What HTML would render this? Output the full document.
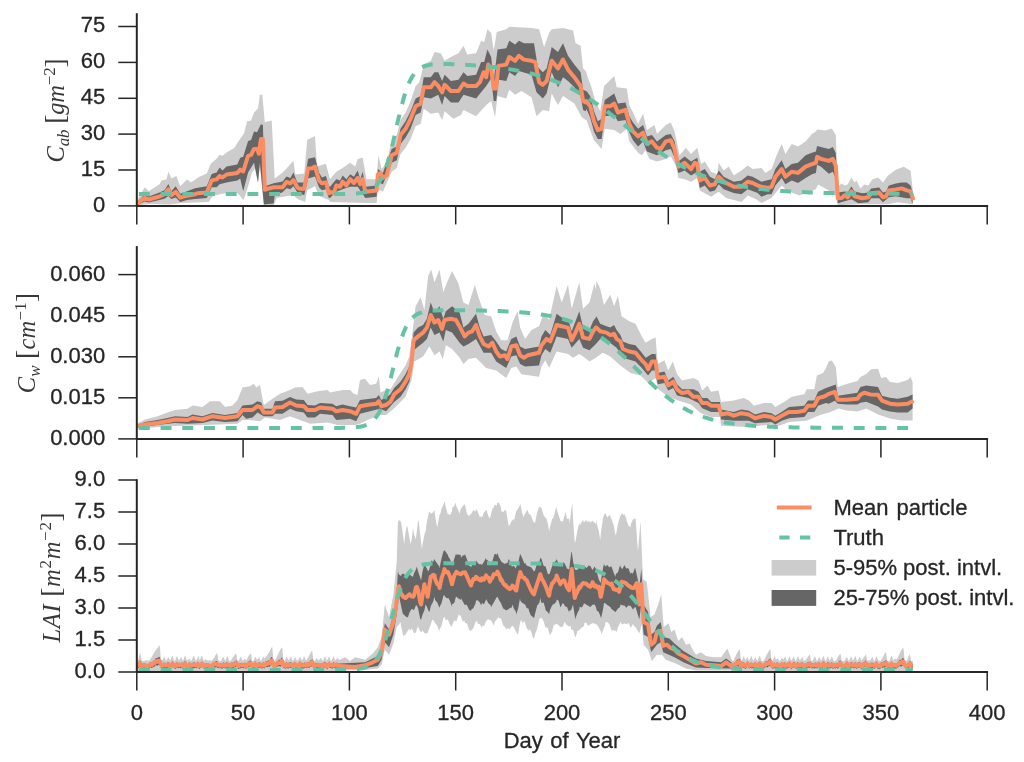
<!DOCTYPE html>
<html lang="en"><head><meta charset="utf-8"><title>Particle filter results</title>
<style>html,body{margin:0;padding:0;background:#fff}svg{display:block}</style></head>
<body>
<svg width="1024" height="762" viewBox="0 0 1024 762">
<rect width="1024" height="762" fill="#fff"/>
<g>
<polygon fill="#cccccc" points="137.3,200.1 144.8,187.3 148.7,191.2 159.5,184.3 161.5,180.4 166.4,179.4 168.4,171.5 171.3,178.4 176.3,176.1 180.2,186.3 187.1,179.4 191.0,182.4 198.9,176.9 206.8,173.5 210.7,163.7 216.6,158.7 219.6,154.8 222.5,155.8 226.5,152.4 234.3,147.9 237.3,143.0 244.2,133.1 247.1,121.3 251.1,120.4 254.0,112.5 258.0,108.5 259.9,94.8 262.3,94.8 264.8,122.3 271.7,120.4 274.7,178.4 282.6,172.5 286.5,168.6 293.4,160.7 295.4,174.5 304.2,173.5 307.2,140.0 315.0,136.1 317.0,166.6 325.9,163.7 328.8,174.5 330.0,179.2 336.3,171.7 342.6,167.9 350.2,162.8 355.2,166.6 357.7,159.1 362.7,157.8 366.5,179.2 376.6,179.2 378.4,155.3 381.6,169.1 386.7,162.8 391.7,140.2 396.8,135.1 400.5,120.0 405.6,112.5 410.6,101.1 415.6,86.0 419.4,82.2 423.7,64.6 430.8,60.8 434.5,52.0 440.8,53.3 444.6,60.8 450.9,57.0 458.5,53.3 463.5,45.7 467.3,54.5 476.1,53.3 481.1,40.7 484.2,41.9 487.4,29.3 491.2,33.1 493.7,50.7 496.8,31.9 506.3,29.3 509.3,26.8 531.5,28.1 539.1,29.3 544.1,47.0 549.1,33.1 551.7,29.3 563.0,28.1 573.1,30.6 575.6,43.2 580.6,45.7 583.1,68.4 585.9,70.9 587.7,77.2 591.5,87.3 595.3,101.1 600.3,111.2 604.1,86.0 614.2,75.9 616.7,87.3 626.8,88.5 629.3,104.9 633.0,112.5 638.1,123.8 643.1,113.7 646.9,130.1 654.5,125.1 657.0,133.9 665.8,125.1 670.8,122.5 674.6,131.4 679.6,155.3 685.9,147.7 691.0,154.0 697.3,147.7 701.1,164.1 704.8,161.6 711.1,171.7 717.4,174.2 718.7,162.8 723.7,170.4 728.8,166.6 733.8,175.4 741.4,170.4 747.7,165.4 752.7,169.1 761.5,167.9 765.3,172.9 771.6,169.1 776.6,155.3 781.7,143.9 785.4,154.0 791.7,143.9 798.0,146.5 805.6,141.4 811.9,133.9 815.9,131.4 817.1,129.4 825.0,130.4 831.9,128.4 835.8,135.3 837.8,186.5 841.7,183.5 844.6,185.5 847.6,184.5 851.5,177.6 854.5,182.5 856.5,180.6 860.4,188.4 864.3,184.5 868.3,185.5 872.2,179.6 878.1,177.6 883.0,182.5 888.0,175.6 895.8,169.7 903.7,166.8 910.6,170.7 912.6,188.4 912.6,204.2 897.8,202.2 888.0,204.2 878.1,204.2 858.4,204.2 837.8,205.2 835.8,196.3 828.9,190.4 818.1,184.5 815.9,189.3 799.3,195.6 786.7,190.5 781.7,185.5 776.6,191.8 771.6,198.1 761.5,203.1 756.5,199.4 747.7,195.6 741.4,201.9 726.2,198.1 718.7,191.8 711.1,196.8 699.8,190.5 697.3,177.9 691.0,181.7 684.7,179.2 678.4,177.9 675.9,165.4 670.8,156.5 665.8,159.1 657.0,161.6 649.4,159.1 645.6,150.2 641.9,155.3 638.1,152.8 629.3,141.4 626.8,128.8 620.5,133.9 614.2,130.1 604.8,128.8 601.6,149.0 594.0,140.2 586.4,120.0 585.9,120.0 581.9,117.5 574.3,103.6 563.0,96.1 558.0,104.9 551.7,93.6 549.1,111.2 542.8,109.9 536.5,116.2 531.5,97.3 521.4,91.0 515.1,94.8 509.3,89.8 506.3,98.6 497.5,96.1 495.0,117.5 491.2,101.1 486.2,104.9 476.1,116.2 463.5,109.9 461.0,115.0 453.4,118.8 444.6,111.2 442.1,120.0 438.3,112.5 430.8,113.7 423.7,108.7 420.7,123.8 415.6,126.3 410.6,138.9 405.6,147.7 400.5,154.0 396.8,167.9 391.7,171.7 382.9,191.8 377.9,189.3 376.6,203.1 365.3,203.1 330.0,201.9 328.8,200.1 319.0,196.1 315.0,186.3 307.2,190.2 305.2,202.0 297.3,199.1 293.4,195.2 287.5,196.1 276.7,198.1 273.7,205.4 263.9,205.4 259.9,166.6 258.0,182.4 255.0,168.6 252.0,172.5 246.1,193.2 243.2,200.1 240.2,196.1 236.3,192.2 224.5,193.2 212.7,196.1 208.7,202.0 181.2,203.0 169.4,204.4 149.7,204.0 137.3,205.6"/>
<polygon fill="#666666" points="137.3,202.0 144.8,194.2 148.7,196.5 159.5,192.6 164.4,190.2 168.4,183.9 171.3,191.2 175.7,186.3 180.2,193.8 187.1,191.2 195.0,188.3 206.8,186.3 211.7,174.1 216.6,172.5 219.6,167.6 222.5,170.6 226.5,166.6 237.3,164.6 240.2,157.8 243.2,156.8 248.1,141.0 251.1,140.0 254.0,131.6 257.0,132.2 260.9,124.3 262.9,124.9 264.8,186.3 267.8,185.3 273.7,183.3 282.6,181.4 286.5,176.5 290.4,178.0 293.4,172.5 297.3,182.4 304.2,182.4 308.1,158.7 315.0,157.2 319.0,172.5 321.9,177.4 325.9,176.1 328.8,186.3 330.0,186.8 336.3,179.2 340.1,180.5 342.6,175.4 346.4,179.2 350.2,174.2 353.9,176.7 357.7,170.4 360.2,179.2 362.7,171.7 365.3,186.8 376.6,185.5 377.9,169.1 382.9,172.9 391.7,149.0 396.8,146.5 400.5,128.8 405.6,121.3 410.6,111.2 415.6,98.6 420.7,96.1 423.7,77.2 430.8,77.2 434.5,72.2 438.3,72.2 442.1,81.0 444.6,74.7 450.9,81.0 458.5,79.7 463.5,72.2 467.3,75.9 476.1,74.7 481.1,62.1 484.2,62.1 487.4,49.5 491.2,57.0 493.7,81.0 497.5,49.5 506.3,48.2 509.3,40.7 515.1,44.4 518.9,40.7 524.0,43.2 534.0,43.2 537.8,67.1 542.8,72.2 546.6,68.4 551.7,47.0 558.0,52.0 563.0,43.2 568.0,55.8 574.3,64.6 580.6,72.2 583.1,89.8 585.9,91.0 586.4,91.0 590.2,96.1 594.0,111.2 597.8,121.3 601.6,118.8 604.8,99.9 614.2,93.6 617.9,103.6 625.5,102.4 629.3,116.2 633.0,122.5 638.1,128.8 643.1,125.1 646.9,136.4 651.9,135.1 657.0,141.4 665.8,135.1 670.8,133.9 674.6,141.4 678.4,161.6 684.7,156.5 691.0,161.6 697.3,157.8 699.8,171.7 704.8,169.1 709.9,176.7 714.9,179.2 718.7,170.4 723.7,176.7 733.8,181.7 741.4,180.5 747.7,175.4 752.7,176.7 761.5,181.7 771.6,179.2 775.4,169.1 781.7,160.3 785.4,169.1 791.7,164.1 798.0,162.8 805.6,155.3 811.9,152.8 815.9,151.5 817.1,146.1 821.0,147.1 828.9,149.1 832.8,147.1 835.8,153.0 837.8,192.4 844.6,191.4 847.6,192.4 851.5,186.5 854.5,191.4 862.4,193.3 868.3,192.4 871.2,188.4 879.1,187.4 883.0,192.4 886.0,191.4 888.9,185.5 895.8,183.5 901.7,182.5 906.7,182.5 910.6,185.5 912.6,192.4 912.6,204.2 910.6,198.3 906.7,198.3 895.8,196.3 888.9,197.3 883.0,202.2 879.1,198.3 871.2,198.3 868.3,202.2 858.4,203.2 851.5,199.3 844.6,201.2 837.8,203.2 835.8,178.6 832.8,171.7 828.9,173.7 821.0,166.8 817.1,164.8 815.9,172.9 811.9,174.2 805.6,177.9 798.0,183.0 791.7,180.5 785.4,184.2 781.7,177.9 775.4,185.5 771.6,194.3 767.8,194.3 761.5,196.8 757.7,193.1 747.7,189.3 741.4,194.3 733.8,193.1 723.7,189.3 718.7,184.2 714.9,190.5 709.9,191.8 704.8,185.5 699.8,188.0 697.3,171.7 691.0,175.4 684.7,170.4 678.4,172.9 674.6,157.8 670.8,149.0 665.8,150.2 657.0,155.3 646.9,151.5 643.1,141.4 638.1,146.5 633.0,140.2 629.3,132.6 625.5,120.0 617.9,121.3 614.2,115.0 604.8,116.2 601.6,138.9 597.8,138.9 594.0,131.4 590.2,117.5 586.4,108.7 585.9,111.2 583.1,109.9 580.6,96.1 574.3,87.3 568.0,81.0 563.0,77.2 558.0,87.3 551.7,72.2 546.6,93.6 542.8,98.6 536.5,92.3 531.5,74.7 518.9,70.9 515.1,75.9 509.3,72.2 506.3,81.0 498.8,79.7 496.2,101.1 493.7,101.1 491.2,78.5 486.2,86.0 481.1,92.3 476.1,98.6 463.5,94.8 458.5,102.4 450.9,102.4 444.6,96.1 442.1,104.9 438.3,94.8 430.8,98.6 423.7,97.3 420.7,112.5 415.6,115.0 410.6,128.8 405.6,137.6 400.5,143.9 396.8,160.3 391.7,162.8 382.9,184.2 377.9,181.7 376.6,196.8 365.3,198.1 357.7,186.8 350.2,186.8 342.6,189.3 336.3,191.8 330.0,198.1 328.8,198.1 325.9,189.3 321.9,190.2 319.0,187.3 315.0,176.5 308.1,178.4 304.2,195.2 297.3,192.2 293.4,186.3 290.4,189.3 286.5,188.3 282.6,192.2 274.7,195.2 273.7,203.6 267.8,204.0 263.9,204.4 259.9,162.7 258.0,182.4 254.0,162.7 248.1,172.5 243.2,191.2 240.2,178.4 237.3,180.4 226.5,182.4 219.6,184.3 216.6,187.3 211.7,187.3 206.8,198.1 195.0,199.1 187.1,200.1 180.2,202.0 175.7,197.5 171.3,199.1 168.4,196.1 164.4,198.7 159.5,200.1 148.7,202.6 144.8,201.5 137.3,205.2"/>
<polyline fill="none" stroke="#fc8d62" stroke-width="4" stroke-linejoin="round" stroke-linecap="butt" points="137.3,203.6 144.8,197.7 148.7,199.5 159.5,196.5 164.4,194.2 168.4,189.3 171.3,195.2 175.7,191.8 180.2,197.7 187.1,195.7 195.0,194.2 197.9,193.2 206.8,192.6 211.7,180.4 216.6,179.4 219.6,176.1 222.5,177.4 226.5,174.5 237.3,172.9 240.2,169.6 243.2,171.5 248.1,155.8 251.1,154.8 254.0,148.9 257.0,148.9 258.9,153.8 260.9,139.1 262.9,139.1 264.8,189.8 267.8,188.7 273.7,187.3 282.6,187.3 286.5,182.0 290.4,183.3 293.4,180.0 297.3,187.3 299.3,188.7 304.2,188.7 308.1,168.6 312.1,168.2 315.0,166.6 319.0,180.4 321.9,183.3 325.9,182.4 328.8,193.2 330.0,191.8 333.8,193.1 336.3,185.5 340.1,186.8 342.6,181.7 346.4,185.5 350.2,179.2 353.9,183.0 357.7,177.9 360.2,184.2 362.7,179.2 365.3,191.8 376.6,190.5 377.9,174.2 380.4,172.9 382.9,177.9 386.7,175.4 391.7,155.3 396.8,152.8 400.5,135.1 405.6,128.8 410.6,118.8 415.6,106.2 420.7,103.6 423.7,87.3 430.8,87.3 434.5,82.2 438.3,86.0 442.1,92.3 444.6,84.8 450.9,91.0 458.5,91.0 463.5,83.5 467.3,86.0 476.1,86.0 479.9,82.2 483.7,72.2 486.2,77.2 488.2,64.6 491.2,68.4 493.7,88.5 496.2,88.5 498.3,65.9 506.3,64.6 509.3,57.0 515.1,60.8 518.9,55.8 524.0,59.6 531.5,60.8 535.3,62.1 539.1,82.2 542.8,84.8 546.6,81.0 551.7,60.8 558.0,68.4 563.0,59.6 568.0,69.6 574.3,77.2 580.6,86.0 583.1,101.1 585.9,102.4 586.4,101.1 590.2,106.2 594.0,121.3 597.8,130.1 601.6,128.8 604.8,106.2 610.4,106.2 614.2,103.6 617.9,112.5 625.5,109.9 629.3,123.8 633.0,131.4 638.1,136.4 643.1,132.6 646.9,143.9 651.9,141.4 657.0,147.7 660.8,149.0 665.8,141.4 670.8,140.2 674.6,149.0 678.4,166.6 684.7,162.8 691.0,169.1 694.8,162.8 697.3,164.1 699.8,180.5 704.8,177.9 709.9,185.5 714.9,184.2 718.7,176.7 723.7,181.7 728.8,184.2 733.8,186.8 741.4,186.8 747.7,181.7 752.7,183.0 757.7,185.5 761.5,186.8 767.8,188.0 771.6,186.8 775.4,176.7 781.7,169.1 785.4,176.7 791.7,171.7 798.0,172.9 805.6,166.6 811.9,164.1 815.9,162.8 817.1,156.9 821.0,158.9 828.9,160.9 832.8,158.9 835.8,165.8 837.8,198.3 841.7,197.9 844.6,195.3 847.6,197.3 851.5,191.4 854.5,196.3 858.4,197.3 862.4,198.3 868.3,197.3 871.2,193.3 879.1,192.4 883.0,197.3 886.0,196.3 888.9,190.4 895.8,189.4 901.7,188.4 906.7,190.4 910.6,191.4 913.5,200.2"/>
<polyline fill="none" stroke="#66c2a5" stroke-width="4" stroke-dasharray="10.9 10.806" points="138.9,193.9 140.0,193.9 141.1,193.9 142.1,193.9 143.2,193.9 144.2,193.9 145.3,193.9 146.4,193.9 147.4,193.9 148.5,193.9 149.6,193.9 150.6,193.9 151.7,193.9 152.7,193.9 153.8,193.9 154.9,193.9 155.9,193.9 157.0,193.9 158.1,193.9 159.1,193.9 160.2,193.9 161.2,193.9 162.3,193.9 163.4,193.9 164.4,193.9 165.5,193.9 166.6,193.9 167.6,193.9 168.7,193.9 169.8,193.9 170.8,193.9 171.9,193.9 172.9,193.9 174.0,193.9 175.1,193.9 176.1,193.9 177.2,193.9 178.3,193.9 179.3,193.9 180.4,193.9 181.4,193.9 182.5,193.9 183.6,193.9 184.6,193.9 185.7,193.9 186.8,193.9 187.8,193.9 188.9,193.9 190.0,193.9 191.0,193.9 192.1,193.9 193.1,193.9 194.2,193.9 195.3,193.9 196.3,193.9 197.4,193.9 198.5,193.9 199.5,193.9 200.6,193.9 201.6,193.9 202.7,193.9 203.8,193.9 204.8,193.9 205.9,193.9 207.0,193.9 208.0,193.9 209.1,193.9 210.1,193.9 211.2,193.9 212.3,193.9 213.3,193.9 214.4,193.9 215.5,193.9 216.5,193.9 217.6,193.9 218.7,193.9 219.7,193.9 220.8,193.9 221.8,193.9 222.9,193.9 224.0,193.9 225.0,193.9 226.1,193.9 227.2,193.9 228.2,193.9 229.3,193.9 230.3,193.9 231.4,193.9 232.5,193.9 233.5,193.9 234.6,193.9 235.7,193.9 236.7,193.9 237.8,193.9 238.8,193.9 239.9,193.9 241.0,194.0 242.0,194.0 243.1,194.0 244.2,194.0 245.2,194.0 246.3,194.0 247.4,194.0 248.4,194.0 249.5,194.0 250.5,194.0 251.6,194.0 252.7,194.0 253.7,194.0 254.8,194.0 255.9,194.0 256.9,194.0 258.0,194.0 259.0,194.0 260.1,194.0 261.2,194.0 262.2,194.0 263.3,194.0 264.4,194.0 265.4,194.0 266.5,194.0 267.5,194.0 268.6,194.0 269.7,194.0 270.7,194.0 271.8,194.0 272.9,194.0 273.9,194.0 275.0,194.0 276.1,194.0 277.1,194.0 278.2,194.0 279.2,194.0 280.3,194.0 281.4,194.0 282.4,194.0 283.5,194.0 284.6,194.0 285.6,194.0 286.7,194.0 287.7,194.0 288.8,194.0 289.9,194.0 290.9,194.0 292.0,194.0 293.1,194.0 294.1,194.0 295.2,194.0 296.2,194.0 297.3,194.0 298.4,194.0 299.4,194.0 300.5,194.0 301.6,194.0 302.6,194.0 303.7,194.0 304.8,194.0 305.8,194.0 306.9,194.0 307.9,194.0 309.0,194.0 310.1,194.0 311.1,194.0 312.2,194.0 313.3,194.0 314.3,194.0 315.4,194.0 316.4,194.0 317.5,194.0 318.6,194.0 319.6,194.0 320.7,194.0 321.8,194.0 322.8,194.0 323.9,194.0 325.0,194.0 326.0,194.0 327.1,194.0 328.1,194.0 329.2,194.0 330.3,194.0 331.3,194.0 332.4,194.0 333.5,194.0 334.5,194.0 335.6,194.0 336.6,194.0 337.7,194.0 338.8,194.0 339.8,194.0 340.9,194.0 342.0,194.0 343.0,194.0 344.1,193.9 345.1,193.9 346.2,193.9 347.3,193.9 348.3,193.9 349.4,193.8 350.5,193.8 351.5,193.8 352.6,193.7 353.7,193.7 354.7,193.6 355.8,193.5 356.8,193.4 357.9,193.3 359.0,193.2 360.0,193.1 361.1,192.9 362.2,192.8 363.2,192.6 364.3,192.3 365.3,192.1 366.4,191.8 367.5,191.4 368.5,191.0 369.6,190.5 370.7,190.0 371.7,189.4 372.8,188.7 373.8,187.9 374.9,187.0 376.0,186.0 377.0,184.8 378.1,183.5 379.2,182.0 380.2,180.4 381.3,178.5 382.4,176.4 383.4,174.1 384.5,171.6 385.5,168.8 386.6,165.7 387.7,162.4 388.7,158.9 389.8,155.1 390.9,151.0 391.9,146.8 393.0,142.4 394.0,137.9 395.1,133.3 396.2,128.6 397.2,123.9 398.3,119.3 399.4,114.8 400.4,110.4 401.5,106.2 402.6,102.2 403.6,98.4 404.7,94.8 405.7,91.5 406.8,88.5 407.9,85.7 408.9,83.1 410.0,80.8 411.1,78.8 412.1,76.9 413.2,75.3 414.2,73.8 415.3,72.5 416.4,71.3 417.4,70.3 418.5,69.4 419.6,68.7 420.6,68.0 421.7,67.4 422.7,66.9 423.8,66.4 424.9,66.0 425.9,65.7 427.0,65.4 428.1,65.2 429.1,64.9 430.2,64.8 431.3,64.6 432.3,64.5 433.4,64.4 434.4,64.3 435.5,64.2 436.6,64.2 437.6,64.1 438.7,64.1 439.8,64.1 440.8,64.0 441.9,64.0 442.9,64.0 444.0,64.0 445.1,64.0 446.1,64.1 447.2,64.1 448.3,64.1 449.3,64.1 450.4,64.1 451.4,64.2 452.5,64.2 453.6,64.2 454.6,64.3 455.7,64.3 456.8,64.4 457.8,64.4 458.9,64.5 460.0,64.5 461.0,64.6 462.1,64.6 463.1,64.7 464.2,64.7 465.3,64.8 466.3,64.8 467.4,64.9 468.5,65.0 469.5,65.0 470.6,65.1 471.6,65.2 472.7,65.2 473.8,65.3 474.8,65.4 475.9,65.5 477.0,65.5 478.0,65.6 479.1,65.7 480.1,65.8 481.2,65.9 482.3,66.0 483.3,66.1 484.4,66.2 485.5,66.3 486.5,66.4 487.6,66.5 488.7,66.6 489.7,66.7 490.8,66.8 491.8,66.9 492.9,67.0 494.0,67.1 495.0,67.2 496.1,67.4 497.2,67.5 498.2,67.6 499.3,67.8 500.3,67.9 501.4,68.0 502.5,68.2 503.5,68.3 504.6,68.5 505.7,68.6 506.7,68.8 507.8,68.9 508.8,69.1 509.9,69.3 511.0,69.4 512.0,69.6 513.1,69.8 514.2,70.0 515.2,70.2 516.3,70.4 517.4,70.6 518.4,70.8 519.5,71.0 520.5,71.2 521.6,71.4 522.7,71.6 523.7,71.8 524.8,72.1 525.9,72.3 526.9,72.5 528.0,72.8 529.0,73.0 530.1,73.3 531.2,73.6 532.2,73.8 533.3,74.1 534.4,74.4 535.4,74.7 536.5,75.0 537.6,75.3 538.6,75.6 539.7,75.9 540.7,76.2 541.8,76.5 542.9,76.9 543.9,77.2 545.0,77.5 546.1,77.9 547.1,78.3 548.2,78.6 549.2,79.0 550.3,79.4 551.4,79.8 552.4,80.2 553.5,80.6 554.6,81.0 555.6,81.4 556.7,81.8 557.7,82.3 558.8,82.7 559.9,83.1 560.9,83.6 562.0,84.1 563.1,84.5 564.1,85.0 565.2,85.5 566.3,86.0 567.3,86.5 568.4,87.0 569.4,87.6 570.5,88.1 571.6,88.6 572.6,89.2 573.7,89.8 574.8,90.3 575.8,90.9 576.9,91.5 577.9,92.1 579.0,92.7 580.1,93.3 581.1,93.9 582.2,94.5 583.3,95.2 584.3,95.8 585.4,96.5 586.4,97.1 587.5,97.8 588.6,98.5 589.6,99.2 590.7,99.9 591.8,100.6 592.8,101.3 593.9,102.0 595.0,102.7 596.0,103.4 597.1,104.2 598.1,104.9 599.2,105.7 600.3,106.4 601.3,107.2 602.4,108.0 603.5,108.7 604.5,109.5 605.6,110.3 606.6,111.1 607.7,111.9 608.8,112.7 609.8,113.5 610.9,114.3 612.0,115.2 613.0,116.0 614.1,116.8 615.1,117.6 616.2,118.5 617.3,119.3 618.3,120.2 619.4,121.0 620.5,121.9 621.5,122.7 622.6,123.5 623.7,124.4 624.7,125.3 625.8,126.1 626.8,127.0 627.9,127.8 629.0,128.7 630.0,129.5 631.1,130.4 632.2,131.2 633.2,132.1 634.3,132.9 635.3,133.8 636.4,134.6 637.5,135.5 638.5,136.3 639.6,137.2 640.7,138.0 641.7,138.8 642.8,139.7 643.9,140.5 644.9,141.3 646.0,142.1 647.0,143.0 648.1,143.8 649.2,144.6 650.2,145.4 651.3,146.2 652.4,146.9 653.4,147.7 654.5,148.5 655.5,149.3 656.6,150.0 657.7,150.8 658.7,151.5 659.8,152.3 660.9,153.0 661.9,153.8 663.0,154.5 664.0,155.2 665.1,155.9 666.2,156.6 667.2,157.3 668.3,158.0 669.4,158.7 670.4,159.3 671.5,160.0 672.6,160.6 673.6,161.3 674.7,161.9 675.7,162.5 676.8,163.1 677.9,163.8 678.9,164.4 680.0,165.0 681.1,165.5 682.1,166.1 683.2,166.7 684.2,167.2 685.3,167.8 686.4,168.3 687.4,168.9 688.5,169.4 689.6,169.9 690.6,170.4 691.7,170.9 692.7,171.4 693.8,171.9 694.9,172.3 695.9,172.8 697.0,173.3 698.1,173.7 699.1,174.2 700.2,174.6 701.3,175.0 702.3,175.4 703.4,175.8 704.4,176.2 705.5,176.6 706.6,177.0 707.6,177.4 708.7,177.8 709.8,178.1 710.8,178.5 711.9,178.8 712.9,179.2 714.0,179.5 715.1,179.9 716.1,180.2 717.2,180.5 718.3,180.8 719.3,181.1 720.4,181.4 721.5,181.7 722.5,182.0 723.6,182.3 724.6,182.5 725.7,182.8 726.8,183.1 727.8,183.3 728.9,183.6 730.0,183.8 731.0,184.1 732.1,184.3 733.1,184.5 734.2,184.8 735.3,185.0 736.3,185.2 737.4,185.4 738.5,185.6 739.5,185.8 740.6,186.0 741.6,186.2 742.7,186.4 743.8,186.6 744.8,186.7 745.9,186.9 747.0,187.1 748.0,187.3 749.1,187.4 750.2,187.6 751.2,187.7 752.3,187.9 753.3,188.0 754.4,188.2 755.5,188.3 756.5,188.5 757.6,188.6 758.7,188.7 759.7,188.9 760.8,189.0 761.8,189.1 762.9,189.2 764.0,189.3 765.0,189.5 766.1,189.6 767.2,189.7 768.2,189.8 769.3,189.9 770.3,190.0 771.4,190.1 772.5,190.2 773.5,190.3 774.6,190.4 775.7,190.5 776.7,190.5 777.8,190.6 778.9,190.7 779.9,190.8 781.0,190.9 782.0,190.9 783.1,191.0 784.2,191.1 785.2,191.2 786.3,191.2 787.4,191.3 788.4,191.4 789.5,191.4 790.5,191.5 791.6,191.6 792.7,191.6 793.7,191.7 794.8,191.7 795.9,191.8 796.9,191.8 798.0,191.9 799.0,191.9 800.1,192.0 801.2,192.0 802.2,192.1 803.3,192.1 804.4,192.2 805.4,192.2 806.5,192.3 807.6,192.3 808.6,192.4 809.7,192.4 810.7,192.4 811.8,192.5 812.9,192.5 813.9,192.6 815.0,192.6 816.1,192.6 817.1,192.7 818.2,192.7 819.2,192.7 820.3,192.7 821.4,192.8 822.4,192.8 823.5,192.8 824.6,192.9 825.6,192.9 826.7,192.9 827.8,192.9 828.8,193.0 829.9,193.0 830.9,193.0 832.0,193.0 833.1,193.1 834.1,193.1 835.2,193.1 836.3,193.1 837.3,193.2 838.4,193.2 839.4,193.2 840.5,193.2 841.6,193.2 842.6,193.2 843.7,193.3 844.8,193.3 845.8,193.3 846.9,193.3 847.9,193.3 849.0,193.3 850.1,193.4 851.1,193.4 852.2,193.4 853.3,193.4 854.3,193.4 855.4,193.4 856.5,193.4 857.5,193.5 858.6,193.5 859.6,193.5 860.7,193.5 861.8,193.5 862.8,193.5 863.9,193.5 865.0,193.5 866.0,193.5 867.1,193.6 868.1,193.6 869.2,193.6 870.3,193.6 871.3,193.6 872.4,193.6 873.5,193.6 874.5,193.6 875.6,193.6 876.6,193.6 877.7,193.6 878.8,193.7 879.8,193.7 880.9,193.7 882.0,193.7 883.0,193.7 884.1,193.7 885.2,193.7 886.2,193.7 887.3,193.7 888.3,193.7 889.4,193.7 890.5,193.7 891.5,193.7 892.6,193.7 893.7,193.7 894.7,193.7 895.8,193.8 896.8,193.8 897.9,193.8 899.0,193.8 900.0,193.8 901.1,193.8 902.2,193.8 903.2,193.8 904.3,193.8 905.3,193.8 906.4,193.8 907.5,193.8 908.5,193.8 909.6,193.8 910.7,193.8 911.7,193.8 912.8,193.8"/>
</g>
<g stroke="#262626" fill="none">
<line x1="136.8" y1="13.2" x2="136.8" y2="206.8" stroke-width="2.0"/>
<line x1="136.0" y1="205.9" x2="988.1" y2="205.9" stroke-width="2.0"/>
<line x1="118.3" y1="205.9" x2="136.8" y2="205.9" stroke-width="1.5"/>
<line x1="118.3" y1="170.0" x2="136.8" y2="170.0" stroke-width="1.5"/>
<line x1="118.3" y1="134.1" x2="136.8" y2="134.1" stroke-width="1.5"/>
<line x1="118.3" y1="98.3" x2="136.8" y2="98.3" stroke-width="1.5"/>
<line x1="118.3" y1="62.4" x2="136.8" y2="62.4" stroke-width="1.5"/>
<line x1="118.3" y1="26.5" x2="136.8" y2="26.5" stroke-width="1.5"/>
<line x1="136.8" y1="205.9" x2="136.8" y2="224.4" stroke-width="1.5"/>
<line x1="243.1" y1="205.9" x2="243.1" y2="224.4" stroke-width="1.5"/>
<line x1="349.4" y1="205.9" x2="349.4" y2="224.4" stroke-width="1.5"/>
<line x1="455.7" y1="205.9" x2="455.7" y2="224.4" stroke-width="1.5"/>
<line x1="562.0" y1="205.9" x2="562.0" y2="224.4" stroke-width="1.5"/>
<line x1="668.3" y1="205.9" x2="668.3" y2="224.4" stroke-width="1.5"/>
<line x1="774.6" y1="205.9" x2="774.6" y2="224.4" stroke-width="1.5"/>
<line x1="880.9" y1="205.9" x2="880.9" y2="224.4" stroke-width="1.5"/>
<line x1="987.2" y1="205.9" x2="987.2" y2="224.4" stroke-width="1.5"/>
</g>
<g font-family="Liberation Sans, Arial, Helvetica, sans-serif" font-size="22" fill="#262626" stroke="#262626" stroke-width="0.3" text-anchor="end">
<text x="105.2" y="211.8">0</text>
<text x="105.2" y="175.9">15</text>
<text x="105.2" y="140.0">30</text>
<text x="105.2" y="104.2">45</text>
<text x="105.2" y="68.3">60</text>
<text x="105.2" y="32.4">75</text>
</g>
<g>
<polygon fill="#cccccc" points="137.0,423.8 145.0,419.5 157.5,416.2 167.5,412.5 175.0,410.0 187.5,408.8 192.5,405.5 202.5,407.0 210.0,401.2 220.0,401.2 225.0,407.0 232.5,405.5 237.5,400.0 242.5,387.5 250.0,386.2 253.8,383.8 256.2,387.5 260.0,385.0 263.8,405.0 272.5,398.8 280.0,393.8 290.0,390.0 295.0,387.5 302.5,387.0 307.5,393.8 317.5,391.2 327.5,390.0 330.0,392.5 342.5,390.0 350.0,390.0 353.8,393.8 357.5,395.0 360.0,380.0 365.0,378.8 370.0,385.0 376.2,383.8 378.8,376.2 380.5,392.5 386.0,390.0 390.4,389.3 400.5,372.9 405.5,365.4 409.3,356.5 411.8,337.6 415.6,306.2 420.6,297.3 424.4,309.9 428.2,275.9 431.2,269.6 434.5,282.2 439.5,269.6 443.3,292.3 447.1,282.2 452.1,270.9 458.4,283.5 463.4,302.4 468.5,304.9 474.8,284.7 478.5,297.3 484.8,315.0 491.1,316.2 496.2,331.3 501.2,340.2 507.5,340.2 512.5,322.5 517.6,311.2 520.1,327.6 525.1,338.9 531.4,330.1 539.0,326.3 544.0,312.5 549.1,320.0 556.6,286.0 561.7,302.4 568.0,284.7 571.7,308.7 579.3,282.2 583.1,308.7 589.4,302.4 594.4,283.5 595.9,289.8 596.4,281.0 600.2,288.5 604.0,304.9 610.3,294.8 614.1,306.2 617.9,296.1 621.6,316.2 629.2,321.3 635.5,323.8 641.8,336.4 645.6,342.7 651.9,338.9 655.6,337.6 657.7,364.1 664.5,360.3 668.2,370.4 672.8,361.6 677.1,374.2 682.1,380.5 693.4,377.9 698.5,380.5 702.2,390.5 707.3,385.5 711.1,391.8 718.6,390.5 721.1,401.9 733.7,400.6 743.8,398.1 748.8,400.6 753.9,405.7 764.0,403.1 771.5,403.1 775.3,406.9 784.1,401.9 791.7,396.8 804.3,394.3 806.8,389.3 814.3,389.3 816.9,375.4 823.1,372.9 825.9,367.9 828.9,361.3 831.9,360.4 835.8,367.2 837.8,386.9 846.6,384.0 857.4,381.0 860.4,377.1 866.3,374.1 871.2,369.2 878.1,368.8 881.1,378.1 886.0,377.1 889.9,382.0 897.8,383.0 907.6,380.0 910.6,377.1 912.6,382.0 912.6,420.4 901.7,420.4 889.9,418.4 878.1,414.5 866.3,408.6 857.4,411.5 846.6,410.6 838.7,408.6 828.9,412.5 825.9,413.2 818.1,415.7 806.8,420.8 789.1,422.0 779.1,425.8 771.5,424.5 746.3,427.1 721.1,425.8 719.9,417.0 711.1,417.0 701.0,413.2 690.9,404.4 678.3,400.6 668.2,396.8 658.2,389.3 655.6,377.9 648.1,383.0 640.5,375.4 630.5,372.9 620.4,365.4 610.3,356.5 602.7,352.8 595.9,357.8 589.4,361.6 583.1,356.5 579.3,354.0 573.0,357.8 568.0,354.0 556.6,351.5 549.1,367.9 545.3,360.3 541.5,366.6 539.0,376.7 521.4,374.2 516.3,366.6 511.3,367.9 506.2,377.9 496.2,370.4 486.1,367.9 476.0,357.8 468.5,359.1 463.4,364.1 459.6,357.8 452.1,349.0 445.8,345.2 442.8,359.1 439.5,351.5 434.5,355.3 429.4,346.5 423.1,356.5 414.3,361.6 411.8,379.2 405.5,396.8 394.2,408.2 386.0,415.0 380.0,415.0 367.5,420.0 360.0,423.8 355.0,425.0 337.5,425.0 327.5,422.5 310.0,423.8 300.0,420.0 290.0,416.2 280.0,420.0 265.0,417.5 260.0,421.2 250.0,420.0 242.5,420.0 237.5,423.8 205.0,425.0 167.5,426.2 137.0,428.8"/>
<polygon fill="#666666" points="137.0,425.0 145.0,422.0 157.5,420.0 167.5,418.0 175.0,416.2 187.5,417.0 192.5,414.5 202.5,416.2 212.5,413.0 225.0,415.0 237.5,413.0 242.5,405.5 252.5,404.5 257.5,401.2 261.2,402.5 263.8,408.8 272.5,408.8 275.0,401.2 282.5,400.8 290.0,397.0 296.2,399.5 303.8,400.0 307.5,405.0 315.0,405.5 320.0,403.0 332.5,403.8 336.2,406.2 342.5,404.5 350.0,406.2 356.2,407.5 360.0,400.0 370.0,398.8 376.2,398.0 378.8,395.0 381.2,400.0 386.0,397.5 390.4,394.3 394.2,388.0 400.5,381.7 405.5,374.2 409.3,366.6 411.8,352.8 413.6,332.6 418.1,327.6 423.1,325.0 426.9,318.8 430.7,302.4 434.5,312.5 439.5,306.2 443.3,318.8 445.8,311.2 452.1,306.2 459.6,312.5 463.4,327.6 468.5,323.8 476.0,313.7 479.8,327.6 483.6,336.4 491.1,335.1 496.2,341.4 501.2,349.0 506.2,351.5 511.3,338.9 516.3,336.4 520.1,346.5 525.1,349.0 539.0,346.5 541.5,336.4 545.3,330.1 550.3,335.1 556.6,313.7 561.7,317.5 568.0,318.8 571.7,331.3 579.3,311.2 583.1,327.6 589.4,330.1 593.1,321.3 595.9,317.5 596.4,316.2 600.2,323.8 606.5,326.3 610.3,327.6 614.1,325.0 616.6,330.1 620.4,335.1 622.9,341.4 629.2,343.9 635.5,345.2 641.8,352.8 645.6,357.8 651.9,354.0 655.6,354.0 657.7,372.9 664.5,371.6 668.2,380.5 673.3,376.7 677.1,384.2 682.1,389.3 693.4,389.3 698.5,391.8 702.2,398.1 707.3,398.1 711.1,401.9 719.9,401.9 721.1,409.4 733.7,411.9 741.3,409.4 748.8,410.7 755.1,414.5 764.0,411.9 771.5,413.2 775.3,415.7 781.6,411.9 789.1,406.9 804.3,405.7 808.0,400.6 814.3,400.6 818.1,391.8 825.9,388.0 828.9,386.9 835.8,384.6 837.8,395.8 857.4,392.8 860.4,386.9 866.3,385.4 878.1,386.9 882.0,395.8 889.9,397.8 897.8,398.7 907.6,396.8 912.6,394.4 912.6,408.6 907.6,412.5 897.8,412.5 889.9,411.5 882.0,409.6 878.1,406.6 866.3,401.7 860.4,402.7 857.4,404.6 846.6,404.6 837.8,403.7 834.8,400.7 828.9,403.7 825.9,403.1 818.1,405.7 814.3,411.9 808.0,411.9 804.3,417.0 789.1,418.2 781.6,420.8 775.3,424.5 771.5,422.0 755.1,423.3 748.8,420.8 733.7,420.8 721.1,419.5 719.9,411.9 711.1,411.9 702.2,408.2 698.5,403.1 688.4,398.1 677.1,395.6 673.3,388.0 668.2,390.5 664.5,383.0 657.7,384.2 655.6,370.4 651.9,370.4 648.1,375.4 641.8,367.9 635.5,361.6 622.9,357.8 616.6,347.7 606.5,340.2 600.2,338.9 595.9,343.9 589.4,350.2 583.1,347.7 579.3,338.9 571.7,347.7 568.0,338.9 556.6,336.4 550.3,352.8 545.3,349.0 541.5,355.3 539.0,365.4 525.1,366.6 520.1,364.1 516.3,355.3 511.3,356.5 506.2,367.9 496.2,361.6 491.1,352.8 483.6,352.8 476.0,338.9 468.5,343.9 463.4,346.5 459.6,342.7 452.1,332.6 445.8,330.1 443.3,341.4 439.5,332.6 434.5,335.1 430.7,327.6 426.9,338.9 423.1,342.7 413.6,350.2 411.8,369.1 409.3,381.7 405.5,389.3 400.5,396.8 394.2,401.9 386.0,411.2 380.0,408.8 370.0,411.2 360.0,413.8 356.2,421.2 350.0,418.8 336.2,420.0 332.5,415.0 320.0,413.8 315.0,417.5 307.5,417.5 303.8,412.5 296.2,411.2 290.0,408.8 282.5,413.8 275.0,413.8 272.5,416.2 263.8,416.2 257.5,412.5 252.5,417.5 246.2,418.8 242.5,415.0 237.5,421.2 225.0,422.0 212.5,420.5 202.5,423.0 187.5,423.8 175.0,423.0 157.5,425.0 137.0,427.5"/>
<polyline fill="none" stroke="#fc8d62" stroke-width="4" stroke-linejoin="round" stroke-linecap="butt" points="137.0,426.2 145.0,424.5 157.5,423.0 167.5,421.2 175.0,419.5 187.5,420.0 192.5,418.0 202.5,419.5 212.5,416.2 225.0,418.0 237.5,416.2 242.5,410.0 252.5,410.0 257.5,406.2 261.2,407.5 263.8,412.5 272.5,412.5 275.0,407.5 282.5,407.0 290.0,402.5 296.2,405.5 303.8,406.2 307.5,410.0 315.0,410.0 320.0,407.5 332.5,408.8 336.2,411.2 342.5,410.0 350.0,411.2 356.2,413.8 360.0,406.2 370.0,404.5 376.2,403.8 378.8,401.2 381.2,406.2 386.0,405.0 390.4,401.9 394.2,394.3 400.5,389.3 405.5,381.7 409.3,374.2 411.8,360.3 413.6,340.2 418.1,336.4 423.1,332.6 426.9,327.6 430.7,315.0 434.5,322.5 438.2,320.0 442.0,328.8 444.5,320.0 450.8,318.8 455.9,320.0 460.9,328.8 464.7,336.4 468.5,332.6 472.2,331.3 476.0,325.0 479.8,336.4 483.6,343.9 488.6,346.5 492.4,342.7 496.2,351.5 499.9,356.5 505.0,355.3 507.5,359.1 511.3,346.5 516.3,345.2 520.1,355.3 523.9,357.8 527.7,355.3 539.0,352.8 541.5,345.2 546.5,338.9 550.3,341.4 556.6,325.0 561.7,326.3 568.0,327.6 571.7,340.2 575.5,332.6 579.3,323.8 583.1,337.6 589.4,338.9 593.1,331.3 595.9,327.6 596.4,327.6 600.2,331.3 606.5,332.6 610.3,335.1 614.1,333.9 616.6,338.9 620.4,341.4 622.9,349.0 629.2,351.5 635.5,352.8 641.8,360.3 645.6,364.1 648.1,369.1 651.9,361.6 655.6,361.6 657.7,377.9 664.5,376.7 668.2,385.5 673.3,381.7 677.1,389.3 682.1,393.1 688.4,391.8 693.4,396.8 698.5,396.8 702.2,403.1 707.3,403.1 711.1,405.7 718.6,405.7 721.1,414.5 727.4,413.2 733.7,415.7 741.3,413.2 748.8,414.5 755.1,418.2 764.0,415.7 771.5,417.0 775.3,419.5 781.6,415.7 789.1,411.9 796.7,411.9 804.3,410.7 808.0,405.7 814.3,405.7 818.1,398.1 823.1,396.8 825.9,395.6 828.9,393.8 834.8,391.9 837.8,399.7 846.6,399.7 857.4,398.7 860.4,394.8 864.3,392.8 870.2,394.4 878.1,394.8 882.0,400.7 889.9,403.7 897.8,404.6 907.6,403.7 913.5,400.7"/>
<polyline fill="none" stroke="#66c2a5" stroke-width="4" stroke-dasharray="10.9 10.805" points="138.9,428.0 140.0,428.0 141.1,428.0 142.1,428.0 143.2,428.0 144.2,428.0 145.3,428.0 146.4,428.0 147.4,428.0 148.5,428.0 149.6,428.0 150.6,428.0 151.7,428.0 152.7,428.0 153.8,428.0 154.9,428.0 155.9,428.0 157.0,428.0 158.1,428.0 159.1,428.0 160.2,428.0 161.2,428.0 162.3,428.0 163.4,428.0 164.4,428.0 165.5,428.0 166.6,428.0 167.6,428.0 168.7,428.0 169.8,428.0 170.8,428.0 171.9,428.0 172.9,428.0 174.0,428.0 175.1,428.0 176.1,428.0 177.2,428.0 178.3,428.0 179.3,428.0 180.4,428.0 181.4,428.0 182.5,428.0 183.6,428.0 184.6,428.0 185.7,428.0 186.8,428.0 187.8,428.0 188.9,428.0 190.0,428.0 191.0,428.0 192.1,428.0 193.1,428.0 194.2,428.0 195.3,428.0 196.3,428.0 197.4,428.0 198.5,428.0 199.5,428.0 200.6,428.0 201.6,428.0 202.7,428.0 203.8,428.0 204.8,428.0 205.9,428.0 207.0,428.0 208.0,428.0 209.1,428.0 210.1,428.0 211.2,428.0 212.3,428.0 213.3,428.0 214.4,428.0 215.5,428.0 216.5,428.0 217.6,428.0 218.7,428.0 219.7,428.0 220.8,428.0 221.8,428.0 222.9,428.0 224.0,428.0 225.0,428.0 226.1,428.0 227.2,428.0 228.2,428.0 229.3,428.0 230.3,428.0 231.4,428.0 232.5,428.0 233.5,428.0 234.6,428.0 235.7,428.0 236.7,428.0 237.8,428.0 238.8,428.0 239.9,428.0 241.0,428.0 242.0,428.0 243.1,428.0 244.2,428.0 245.2,428.0 246.3,428.0 247.4,428.0 248.4,428.0 249.5,428.0 250.5,428.0 251.6,428.0 252.7,428.0 253.7,428.0 254.8,428.0 255.9,428.0 256.9,428.0 258.0,428.0 259.0,428.0 260.1,428.0 261.2,428.0 262.2,428.0 263.3,428.0 264.4,428.0 265.4,428.0 266.5,428.0 267.5,428.0 268.6,428.0 269.7,428.0 270.7,428.0 271.8,428.0 272.9,428.0 273.9,428.0 275.0,428.0 276.1,428.0 277.1,428.0 278.2,428.0 279.2,428.0 280.3,428.0 281.4,428.0 282.4,428.0 283.5,428.0 284.6,428.0 285.6,428.0 286.7,428.0 287.7,428.0 288.8,428.0 289.9,428.0 290.9,428.0 292.0,428.0 293.1,428.0 294.1,428.0 295.2,428.0 296.2,428.0 297.3,428.0 298.4,428.0 299.4,428.0 300.5,428.0 301.6,428.0 302.6,428.0 303.7,428.0 304.8,428.0 305.8,428.0 306.9,428.0 307.9,428.0 309.0,428.0 310.1,428.0 311.1,428.0 312.2,428.0 313.3,427.9 314.3,427.9 315.4,427.9 316.4,427.9 317.5,427.9 318.6,427.9 319.6,427.9 320.7,427.9 321.8,427.9 322.8,427.9 323.9,427.9 325.0,427.9 326.0,427.9 327.1,427.9 328.1,427.9 329.2,427.9 330.3,427.9 331.3,427.9 332.4,427.9 333.5,427.9 334.5,427.9 335.6,427.9 336.6,427.9 337.7,427.9 338.8,427.9 339.8,427.9 340.9,427.9 342.0,427.8 343.0,427.8 344.1,427.8 345.1,427.8 346.2,427.8 347.3,427.7 348.3,427.7 349.4,427.6 350.5,427.6 351.5,427.5 352.6,427.5 353.7,427.4 354.7,427.3 355.8,427.2 356.8,427.1 357.9,427.0 359.0,426.8 360.0,426.7 361.1,426.5 362.2,426.2 363.2,426.0 364.3,425.7 365.3,425.3 366.4,424.9 367.5,424.4 368.5,423.9 369.6,423.3 370.7,422.6 371.7,421.8 372.8,420.9 373.8,419.9 374.9,418.7 376.0,417.4 377.0,415.9 378.1,414.3 379.2,412.4 380.2,410.4 381.3,408.1 382.4,405.6 383.4,402.8 384.5,399.8 385.5,396.6 386.6,393.1 387.7,389.5 388.7,385.6 389.8,381.6 390.9,377.5 391.9,373.3 393.0,369.0 394.0,364.7 395.1,360.5 396.2,356.4 397.2,352.3 398.3,348.5 399.4,344.8 400.4,341.4 401.5,338.2 402.6,335.2 403.6,332.4 404.7,329.9 405.7,327.6 406.8,325.6 407.9,323.7 408.9,322.1 410.0,320.6 411.1,319.3 412.1,318.1 413.2,317.1 414.2,316.2 415.3,315.4 416.4,314.7 417.4,314.1 418.5,313.6 419.6,313.1 420.6,312.7 421.7,312.4 422.7,312.0 423.8,311.8 424.9,311.6 425.9,311.4 427.0,311.2 428.1,311.0 429.1,310.9 430.2,310.8 431.3,310.7 432.3,310.6 433.4,310.6 434.4,310.5 435.5,310.5 436.6,310.4 437.6,310.4 438.7,310.3 439.8,310.3 440.8,310.3 441.9,310.3 442.9,310.3 444.0,310.2 445.1,310.2 446.1,310.2 447.2,310.2 448.3,310.2 449.3,310.2 450.4,310.2 451.4,310.2 452.5,310.2 453.6,310.2 454.6,310.2 455.7,310.2 456.8,310.3 457.8,310.3 458.9,310.3 460.0,310.3 461.0,310.3 462.1,310.3 463.1,310.3 464.2,310.3 465.3,310.3 466.3,310.3 467.4,310.4 468.5,310.4 469.5,310.4 470.6,310.4 471.6,310.4 472.7,310.4 473.8,310.4 474.8,310.5 475.9,310.5 477.0,310.5 478.0,310.5 479.1,310.5 480.1,310.6 481.2,310.6 482.3,310.6 483.3,310.6 484.4,310.6 485.5,310.7 486.5,310.7 487.6,310.7 488.7,310.8 489.7,310.8 490.8,310.8 491.8,310.8 492.9,310.9 494.0,310.9 495.0,310.9 496.1,311.0 497.2,311.0 498.2,311.0 499.3,311.1 500.3,311.1 501.4,311.2 502.5,311.2 503.5,311.3 504.6,311.3 505.7,311.4 506.7,311.4 507.8,311.5 508.8,311.5 509.9,311.6 511.0,311.6 512.0,311.7 513.1,311.7 514.2,311.8 515.2,311.9 516.3,311.9 517.4,312.0 518.4,312.1 519.5,312.2 520.5,312.3 521.6,312.3 522.7,312.4 523.7,312.5 524.8,312.6 525.9,312.7 526.9,312.8 528.0,312.9 529.0,313.0 530.1,313.1 531.2,313.2 532.2,313.3 533.3,313.4 534.4,313.6 535.4,313.7 536.5,313.8 537.6,314.0 538.6,314.1 539.7,314.3 540.7,314.4 541.8,314.6 542.9,314.7 543.9,314.9 545.0,315.1 546.1,315.2 547.1,315.4 548.2,315.6 549.2,315.8 550.3,316.0 551.4,316.2 552.4,316.5 553.5,316.7 554.6,316.9 555.6,317.1 556.7,317.4 557.7,317.6 558.8,317.9 559.9,318.2 560.9,318.5 562.0,318.7 563.1,319.0 564.1,319.4 565.2,319.7 566.3,320.0 567.3,320.3 568.4,320.7 569.4,321.0 570.5,321.4 571.6,321.8 572.6,322.2 573.7,322.6 574.8,323.0 575.8,323.4 576.9,323.8 577.9,324.3 579.0,324.7 580.1,325.2 581.1,325.7 582.2,326.2 583.3,326.7 584.3,327.2 585.4,327.8 586.4,328.3 587.5,328.9 588.6,329.5 589.6,330.0 590.7,330.7 591.8,331.3 592.8,331.9 593.9,332.6 595.0,333.2 596.0,333.9 597.1,334.6 598.1,335.3 599.2,336.0 600.3,336.8 601.3,337.5 602.4,338.3 603.5,339.1 604.5,339.9 605.6,340.7 606.6,341.5 607.7,342.3 608.8,343.2 609.8,344.1 610.9,344.9 612.0,345.8 613.0,346.7 614.1,347.7 615.1,348.6 616.2,349.5 617.3,350.5 618.3,351.4 619.4,352.4 620.5,353.4 621.5,354.4 622.6,355.4 623.7,356.4 624.7,357.4 625.8,358.5 626.8,359.5 627.9,360.5 629.0,361.6 630.0,362.6 631.1,363.7 632.2,364.7 633.2,365.8 634.3,366.8 635.3,367.9 636.4,369.0 637.5,370.0 638.5,371.1 639.6,372.1 640.7,373.2 641.7,374.3 642.8,375.3 643.9,376.4 644.9,377.4 646.0,378.4 647.0,379.5 648.1,380.5 649.2,381.5 650.2,382.5 651.3,383.5 652.4,384.5 653.4,385.5 654.5,386.5 655.5,387.4 656.6,388.4 657.7,389.3 658.7,390.3 659.8,391.2 660.9,392.1 661.9,393.0 663.0,393.8 664.0,394.7 665.1,395.6 666.2,396.4 667.2,397.2 668.3,398.0 669.4,398.8 670.4,399.6 671.5,400.4 672.6,401.1 673.6,401.9 674.7,402.6 675.7,403.3 676.8,404.0 677.9,404.7 678.9,405.4 680.0,406.0 681.1,406.6 682.1,407.3 683.2,407.9 684.2,408.5 685.3,409.0 686.4,409.6 687.4,410.2 688.5,410.7 689.6,411.2 690.6,411.7 691.7,412.2 692.7,412.7 693.8,413.2 694.9,413.6 695.9,414.1 697.0,414.5 698.1,414.9 699.1,415.4 700.2,415.8 701.3,416.1 702.3,416.5 703.4,416.9 704.4,417.2 705.5,417.6 706.6,417.9 707.6,418.2 708.7,418.6 709.8,418.9 710.8,419.2 711.9,419.5 712.9,419.7 714.0,420.0 715.1,420.3 716.1,420.5 717.2,420.8 718.3,421.0 719.3,421.2 720.4,421.5 721.5,421.7 722.5,421.9 723.6,422.1 724.6,422.3 725.7,422.5 726.8,422.7 727.8,422.8 728.9,423.0 730.0,423.2 731.0,423.3 732.1,423.5 733.1,423.7 734.2,423.8 735.3,423.9 736.3,424.1 737.4,424.2 738.5,424.3 739.5,424.5 740.6,424.6 741.6,424.7 742.7,424.8 743.8,424.9 744.8,425.0 745.9,425.1 747.0,425.2 748.0,425.3 749.1,425.4 750.2,425.5 751.2,425.6 752.3,425.7 753.3,425.7 754.4,425.8 755.5,425.9 756.5,426.0 757.6,426.0 758.7,426.1 759.7,426.2 760.8,426.2 761.8,426.3 762.9,426.3 764.0,426.4 765.0,426.5 766.1,426.5 767.2,426.6 768.2,426.6 769.3,426.7 770.3,426.7 771.4,426.7 772.5,426.8 773.5,426.8 774.6,426.9 775.7,426.9 776.7,426.9 777.8,427.0 778.9,427.0 779.9,427.0 781.0,427.1 782.0,427.1 783.1,427.1 784.2,427.2 785.2,427.2 786.3,427.2 787.4,427.2 788.4,427.3 789.5,427.3 790.5,427.3 791.6,427.3 792.7,427.4 793.7,427.4 794.8,427.4 795.9,427.4 796.9,427.4 798.0,427.5 799.0,427.5 800.1,427.5 801.2,427.5 802.2,427.5 803.3,427.5 804.4,427.6 805.4,427.6 806.5,427.6 807.6,427.6 808.6,427.6 809.7,427.6 810.7,427.6 811.8,427.6 812.9,427.7 813.9,427.7 815.0,427.7 816.1,427.7 817.1,427.7 818.2,427.7 819.2,427.7 820.3,427.7 821.4,427.7 822.4,427.7 823.5,427.7 824.6,427.7 825.6,427.8 826.7,427.8 827.8,427.8 828.8,427.8 829.9,427.8 830.9,427.8 832.0,427.8 833.1,427.8 834.1,427.8 835.2,427.8 836.3,427.8 837.3,427.8 838.4,427.8 839.4,427.8 840.5,427.8 841.6,427.8 842.6,427.8 843.7,427.8 844.8,427.8 845.8,427.9 846.9,427.9 847.9,427.9 849.0,427.9 850.1,427.9 851.1,427.9 852.2,427.9 853.3,427.9 854.3,427.9 855.4,427.9 856.5,427.9 857.5,427.9 858.6,427.9 859.6,427.9 860.7,427.9 861.8,427.9 862.8,427.9 863.9,427.9 865.0,427.9 866.0,427.9 867.1,427.9 868.1,427.9 869.2,427.9 870.3,427.9 871.3,427.9 872.4,427.9 873.5,427.9 874.5,427.9 875.6,427.9 876.6,427.9 877.7,427.9 878.8,427.9 879.8,427.9 880.9,427.9 882.0,427.9 883.0,427.9 884.1,427.9 885.2,427.9 886.2,427.9 887.3,427.9 888.3,427.9 889.4,427.9 890.5,427.9 891.5,427.9 892.6,427.9 893.7,427.9 894.7,427.9 895.8,427.9 896.8,427.9 897.9,427.9 899.0,427.9 900.0,427.9 901.1,427.9 902.2,427.9 903.2,427.9 904.3,427.9 905.3,427.9 906.4,427.9 907.5,427.9 908.5,427.9 909.6,427.9 910.7,427.9 911.7,427.9 912.8,427.9"/>
</g>
<g stroke="#262626" fill="none">
<line x1="136.8" y1="246.1" x2="136.8" y2="439.8" stroke-width="2.0"/>
<line x1="136.0" y1="438.9" x2="988.1" y2="438.9" stroke-width="2.0"/>
<line x1="118.3" y1="438.9" x2="136.8" y2="438.9" stroke-width="1.5"/>
<line x1="118.3" y1="397.8" x2="136.8" y2="397.8" stroke-width="1.5"/>
<line x1="118.3" y1="356.8" x2="136.8" y2="356.8" stroke-width="1.5"/>
<line x1="118.3" y1="315.7" x2="136.8" y2="315.7" stroke-width="1.5"/>
<line x1="118.3" y1="274.6" x2="136.8" y2="274.6" stroke-width="1.5"/>
<line x1="136.8" y1="438.9" x2="136.8" y2="457.4" stroke-width="1.5"/>
<line x1="243.1" y1="438.9" x2="243.1" y2="457.4" stroke-width="1.5"/>
<line x1="349.4" y1="438.9" x2="349.4" y2="457.4" stroke-width="1.5"/>
<line x1="455.7" y1="438.9" x2="455.7" y2="457.4" stroke-width="1.5"/>
<line x1="562.0" y1="438.9" x2="562.0" y2="457.4" stroke-width="1.5"/>
<line x1="668.3" y1="438.9" x2="668.3" y2="457.4" stroke-width="1.5"/>
<line x1="774.6" y1="438.9" x2="774.6" y2="457.4" stroke-width="1.5"/>
<line x1="880.9" y1="438.9" x2="880.9" y2="457.4" stroke-width="1.5"/>
<line x1="987.2" y1="438.9" x2="987.2" y2="457.4" stroke-width="1.5"/>
</g>
<g font-family="Liberation Sans, Arial, Helvetica, sans-serif" font-size="22" fill="#262626" stroke="#262626" stroke-width="0.3" text-anchor="end">
<text x="105.2" y="444.8">0.000</text>
<text x="105.2" y="403.7">0.015</text>
<text x="105.2" y="362.7">0.030</text>
<text x="105.2" y="321.6">0.045</text>
<text x="105.2" y="280.5">0.060</text>
</g>
<g>
<polygon fill="#cccccc" points="137.2,660.6 137.8,660.4 138.3,659.5 138.8,657.4 139.4,655.5 139.9,653.5 140.4,653.5 140.9,656.2 141.5,658.9 142.0,661.1 142.5,661.1 143.1,661.1 143.6,661.0 144.1,660.9 144.7,660.7 145.2,660.5 145.7,660.4 146.3,660.3 146.8,660.3 147.3,660.3 147.9,660.5 148.4,660.6 148.9,660.8 149.4,660.5 150.0,659.8 150.5,659.0 151.0,658.1 151.6,657.2 152.1,656.2 152.6,655.2 153.2,654.2 153.7,653.3 154.2,652.4 154.8,651.6 155.3,650.8 155.8,650.1 156.4,649.5 156.9,648.9 157.4,648.2 158.0,647.5 158.5,646.7 159.0,645.8 159.5,644.9 160.1,648.8 160.6,656.1 161.1,660.4 161.7,660.3 162.2,660.3 162.7,659.4 163.3,658.5 163.8,657.5 164.3,656.7 164.9,657.7 165.4,659.2 165.9,660.6 166.5,660.5 167.0,659.5 167.5,658.4 168.1,657.3 168.6,657.5 169.1,658.5 169.6,659.6 170.2,660.3 170.7,659.5 171.2,658.2 171.8,657.0 172.3,655.8 172.8,656.4 173.4,658.3 173.9,660.1 174.4,661.1 175.0,660.8 175.5,659.5 176.0,658.1 176.6,656.8 177.1,656.0 177.6,657.4 178.2,658.8 178.7,660.3 179.2,660.2 179.7,659.3 180.3,658.4 180.8,657.5 181.3,657.1 181.9,658.5 182.4,659.8 182.9,661.0 183.5,659.6 184.0,658.1 184.5,656.7 185.1,655.2 185.6,656.8 186.1,658.4 186.7,660.0 187.2,660.5 187.7,660.0 188.2,659.5 188.8,659.1 189.3,658.5 189.8,659.4 190.4,660.1 190.9,660.8 191.4,660.8 192.0,659.8 192.5,658.3 193.0,656.9 193.6,655.5 194.1,656.0 194.6,657.7 195.2,659.5 195.7,660.7 196.2,660.6 196.8,659.5 197.3,658.3 197.8,657.0 198.3,656.3 198.9,657.7 199.4,659.2 199.9,660.1 200.5,658.6 201.0,657.2 201.5,655.9 202.1,655.8 202.6,657.5 203.1,659.3 203.7,660.7 204.2,660.5 204.7,660.1 205.3,659.6 205.8,659.1 206.3,659.4 206.9,660.0 207.4,660.5 207.9,660.6 208.4,660.4 209.0,660.3 209.5,660.3 210.0,660.3 210.6,660.4 211.1,660.6 211.6,660.8 212.2,660.2 212.7,659.6 213.2,658.9 213.8,658.2 214.3,657.3 214.8,656.4 215.4,655.5 215.9,654.6 216.4,653.7 217.0,652.9 217.5,654.7 218.0,658.2 218.5,660.5 219.1,660.6 219.6,660.8 220.1,661.0 220.7,661.1 221.2,660.7 221.7,659.6 222.3,658.4 222.8,657.2 223.3,656.9 223.9,658.1 224.4,659.3 224.9,660.3 225.5,660.3 226.0,659.2 226.5,658.1 227.0,657.1 227.6,656.1 228.1,657.8 228.6,659.3 229.2,660.8 229.7,661.1 230.2,661.0 230.8,660.8 231.3,659.9 231.8,658.9 232.4,658.1 232.9,657.2 233.4,656.5 234.0,655.8 234.5,655.2 235.0,654.6 235.6,654.0 236.1,653.4 236.6,655.4 237.1,659.0 237.7,661.1 238.2,660.9 238.7,660.6 239.3,659.4 239.8,658.3 240.3,657.2 240.9,656.7 241.4,657.9 241.9,659.2 242.5,660.6 243.0,660.4 243.5,659.9 244.1,659.4 244.6,658.8 245.1,659.0 245.7,659.8 246.2,660.4 246.7,659.4 247.2,658.5 247.8,657.5 248.3,656.6 248.8,655.8 249.4,655.0 249.9,654.4 250.4,653.7 251.0,653.1 251.5,656.8 252.0,660.4 252.6,661.1 253.1,661.1 253.6,660.4 254.2,659.2 254.7,657.9 255.2,656.7 255.7,656.9 256.3,658.2 256.8,659.5 257.3,659.6 257.9,658.7 258.4,657.9 258.9,657.2 259.5,658.1 260.0,659.4 260.5,660.6 261.1,661.1 261.6,660.1 262.1,658.9 262.7,657.7 263.2,656.4 263.7,657.1 264.3,658.4 264.8,658.5 265.3,657.8 265.8,657.0 266.4,656.3 266.9,655.6 267.4,654.9 268.0,654.2 268.5,653.3 269.0,652.4 269.6,651.4 270.1,650.4 270.6,649.3 271.2,648.3 271.7,647.3 272.2,646.4 272.8,652.7 273.3,659.1 273.8,660.5 274.4,660.7 274.9,660.3 275.4,659.5 275.9,658.6 276.5,657.6 277.0,656.6 277.5,655.5 278.1,654.4 278.6,653.3 279.1,652.1 279.7,651.1 280.2,650.1 280.7,649.1 281.3,648.3 281.8,647.5 282.3,648.1 282.9,654.6 283.4,661.0 283.9,661.1 284.5,661.1 285.0,660.2 285.5,659.0 286.0,657.7 286.6,656.5 287.1,657.2 287.6,658.4 288.2,659.7 288.7,660.3 289.2,659.5 289.8,658.5 290.3,657.5 290.8,656.5 291.4,657.5 291.9,659.1 292.4,660.5 293.0,661.0 293.5,660.2 294.0,659.2 294.5,658.3 295.1,657.3 295.6,657.9 296.1,658.9 296.7,659.9 297.2,660.5 297.7,660.6 298.3,660.1 298.8,659.1 299.3,658.0 299.9,656.9 300.4,657.3 300.9,658.6 301.5,659.9 302.0,660.6 302.5,659.8 303.1,658.6 303.6,657.5 304.1,656.4 304.6,656.9 305.2,658.4 305.7,659.9 306.2,660.2 306.8,659.5 307.3,658.8 307.8,657.9 308.4,657.1 308.9,656.1 309.4,655.1 310.0,654.1 310.5,653.1 311.0,652.1 311.6,651.2 312.1,650.4 312.6,654.0 313.2,658.7 313.7,660.7 314.2,660.9 314.7,660.7 315.3,660.0 315.8,659.2 316.3,658.3 316.9,658.1 317.4,658.9 317.9,659.8 318.5,660.4 319.0,660.0 319.5,659.4 320.1,658.8 320.6,658.2 321.1,658.3 321.7,659.3 322.2,660.3 322.7,661.1 323.3,660.2 323.8,659.0 324.3,657.7 324.8,656.4 325.4,657.2 325.9,658.5 326.4,659.8 327.0,660.3 327.5,659.4 328.0,658.4 328.6,657.5 329.1,656.6 329.6,657.6 330.2,659.1 330.7,660.5 331.2,661.1 331.8,660.2 332.3,658.9 332.8,657.6 333.3,656.2 333.9,657.0 334.4,658.3 334.9,659.7 335.5,660.3 336.0,659.7 336.5,659.0 337.1,658.4 337.6,657.8 338.1,658.6 338.7,659.7 340.0,659.8 345.0,657.3 350.1,661.1 355.1,657.3 365.2,659.8 372.7,653.5 377.8,647.2 381.6,637.1 384.8,604.4 389.1,617.0 393.4,594.3 396.7,561.6 397.9,522.5 399.0,520.1 400.5,521.3 401.1,522.5 403.3,537.3 404.2,543.9 405.4,533.5 406.8,526.3 407.5,526.8 409.6,539.1 410.5,543.9 411.8,538.9 413.0,527.6 413.9,533.4 415.6,538.9 416.0,538.0 418.1,520.9 418.6,520.0 420.3,535.0 421.9,549.0 422.4,545.0 424.5,534.3 425.6,531.3 426.6,523.3 428.8,512.7 429.4,511.2 430.9,513.8 433.0,512.6 434.5,509.9 435.1,516.5 437.0,526.3 437.3,527.3 439.4,515.3 440.8,512.4 441.5,508.8 443.6,504.7 444.5,501.1 445.8,506.9 447.9,514.8 448.3,513.7 450.0,515.2 452.1,511.2 452.1,508.1 454.3,506.0 455.4,502.4 456.4,506.3 458.5,510.8 459.6,513.7 460.7,509.1 462.8,506.2 463.4,504.9 464.9,504.4 467.0,513.7 469.2,516.6 469.7,515.0 471.3,513.7 473.4,509.9 475.5,512.0 476.0,508.7 477.7,511.6 479.8,517.0 481.1,516.2 481.9,517.6 484.0,512.6 486.1,509.9 486.2,509.5 488.3,515.7 489.9,518.7 490.4,516.6 492.5,508.4 493.7,507.4 494.7,504.7 496.8,505.4 497.4,502.4 498.9,502.7 501.0,507.6 501.2,511.2 503.2,512.1 505.3,509.7 506.2,511.2 507.4,518.5 508.8,526.3 509.6,524.9 511.7,520.8 513.8,518.7 513.8,522.2 515.9,511.9 518.1,508.8 520.1,504.9 520.2,503.1 522.3,513.2 523.9,517.5 524.4,514.8 526.6,511.1 527.7,509.9 528.7,513.7 530.8,515.0 532.9,520.9 534.0,522.5 535.1,522.7 537.2,512.0 539.3,506.6 540.3,507.4 541.4,507.7 543.6,515.2 545.7,518.0 546.5,518.7 547.8,523.3 549.1,531.3 549.9,527.2 552.1,519.1 552.8,518.7 554.2,514.9 556.3,506.3 556.6,508.7 558.4,514.6 560.6,521.3 561.7,521.3 562.7,521.7 564.8,514.5 565.4,511.2 567.0,518.9 569.1,518.5 569.7,523.8 571.2,509.7 572.2,502.4 573.3,523.1 574.8,542.7 575.5,541.5 577.6,529.5 579.3,522.5 579.7,525.4 581.8,521.7 583.1,520.0 584.0,522.7 586.1,520.1 588.1,522.5 588.2,520.4 590.3,522.5 592.5,520.7 594.6,522.7 595.9,523.8 596.4,518.7 596.7,523.5 598.8,531.1 600.2,540.2 601.0,531.8 603.1,517.8 604.0,515.0 605.2,512.9 607.3,517.6 609.5,515.1 610.3,516.2 611.6,519.3 613.7,525.4 615.3,533.9 615.9,535.4 618.0,523.7 619.1,520.0 620.1,516.6 622.2,512.8 622.9,515.0 624.4,514.3 626.5,518.6 626.7,521.3 628.6,525.7 630.5,527.6 630.7,524.5 632.9,519.5 635.0,518.4 635.5,517.5 638.0,551.5 640.5,521.3 643.0,579.2 646.8,581.7 650.6,617.0 654.4,614.5 658.2,604.4 661.2,594.3 663.7,627.1 668.7,623.3 671.3,632.1 674.5,629.6 678.3,640.9 682.1,637.1 685.9,644.7 689.6,643.4 693.4,651.0 695.9,654.8 701.0,652.2 706.0,656.0 713.6,657.3 721.1,657.3 727.4,648.5 731.2,658.5 732.1,659.9 732.6,660.9 733.1,661.0 733.7,660.2 734.2,658.9 734.7,657.7 735.3,656.6 735.8,655.4 736.3,654.4 736.9,653.5 737.4,652.6 737.9,651.7 738.5,650.8 739.0,649.9 739.5,648.9 740.1,652.0 740.6,657.6 741.1,660.9 741.6,660.8 742.2,659.5 742.7,658.3 743.2,657.1 743.8,656.0 744.3,657.4 744.8,658.8 745.4,660.3 745.9,659.5 746.4,658.6 747.0,657.6 747.5,657.1 748.0,658.4 748.6,659.7 749.1,660.9 749.6,659.5 750.2,658.2 750.7,656.9 751.2,655.6 751.7,657.0 752.3,658.6 752.8,660.1 753.3,660.6 753.9,659.8 754.4,659.0 754.9,658.2 755.5,657.3 756.0,658.5 756.5,659.6 757.1,660.6 757.6,660.7 758.1,659.3 758.7,658.0 759.2,656.8 759.7,655.6 760.2,657.1 760.8,658.7 761.3,660.3 761.8,660.8 762.4,661.0 762.9,661.1 763.4,661.1 764.0,660.3 764.5,659.3 765.0,658.2 765.6,657.0 766.1,655.9 766.6,654.8 767.2,653.8 767.7,652.9 768.2,652.0 768.8,651.2 769.3,650.4 769.8,649.6 770.3,648.8 770.9,654.5 771.4,660.0 771.9,661.1 772.5,660.9 773.0,659.7 773.5,658.5 774.1,657.2 774.6,656.1 775.1,657.3 775.7,658.7 776.2,659.7 776.7,659.3 777.3,658.8 777.8,658.3 778.3,659.3 778.9,660.1 779.4,661.0 779.9,661.0 780.4,660.3 781.0,659.5 781.5,658.6 782.0,657.9 782.6,658.5 783.1,659.3 783.6,659.2 784.2,658.3 784.7,657.4 785.2,656.5 785.8,658.0 786.3,659.5 786.8,660.8 787.4,661.1 787.9,660.0 788.4,658.7 789.0,657.5 789.5,656.3 790.0,657.5 790.5,658.7 791.1,660.0 791.6,660.3 792.1,659.3 792.7,658.3 793.2,657.3 793.7,656.3 794.3,657.8 794.8,659.4 795.3,660.8 795.9,661.0 796.4,659.7 796.9,658.3 797.5,657.0 798.0,655.7 798.5,657.1 799.0,658.5 799.6,660.1 800.1,660.5 800.6,659.6 801.2,658.7 801.7,657.8 802.2,656.8 802.8,658.2 803.3,659.5 803.8,660.7 804.4,660.8 804.9,660.6 805.4,660.5 806.0,659.8 806.5,658.9 807.0,658.1 807.6,657.3 808.1,656.6 808.6,655.9 809.1,655.2 809.7,654.5 810.2,656.1 810.7,659.3 811.3,661.1 811.8,660.9 812.3,660.8 812.9,660.6 813.4,659.4 813.9,658.2 814.5,657.1 815.0,656.0 815.5,657.5 816.1,659.0 816.6,660.5 817.1,660.9 817.7,660.0 818.2,659.0 818.7,657.9 819.2,656.8 819.8,658.0 820.3,659.1 820.8,660.3 821.4,660.4 821.9,659.1 822.4,657.9 823.0,656.8 823.5,655.7 824.0,657.4 824.6,659.0 825.1,660.6 825.6,661.1 826.2,659.9 826.7,658.8 827.2,657.5 827.8,656.2 828.3,657.5 828.8,658.8 829.3,660.1 829.9,660.3 830.4,659.2 830.9,658.2 831.5,657.3 832.0,656.4 832.5,657.9 833.1,659.4 833.6,660.8 834.1,661.1 834.7,661.1 835.2,661.0 835.7,660.8 836.3,660.0 836.8,659.0 837.3,658.0 837.8,657.1 838.4,656.2 838.9,655.4 839.4,654.7 840.0,654.0 840.5,653.4 841.0,656.9 841.6,660.4 842.1,661.1 842.6,661.1 843.2,661.0 843.7,660.8 844.2,660.6 844.8,660.4 845.3,659.4 845.8,658.4 846.4,657.4 846.9,656.5 847.4,657.9 847.9,659.3 848.5,660.6 849.0,661.0 849.5,659.9 850.1,658.8 850.6,657.5 851.1,656.2 851.7,657.5 852.2,658.8 852.7,660.1 853.3,660.3 853.8,659.1 854.3,658.0 854.9,656.9 855.4,655.9 855.9,657.5 856.5,659.2 857.0,660.8 857.5,661.1 858.0,660.0 858.6,658.9 859.1,657.7 859.6,656.5 860.2,657.6 860.7,658.8 861.2,660.0 861.8,660.3 862.3,659.4 862.8,658.7 863.4,658.0 863.9,657.3 864.4,656.5 865.0,655.8 865.5,655.0 866.0,654.1 866.5,657.2 867.1,660.2 867.6,660.7 868.1,660.5 868.7,660.4 869.2,660.3 869.7,660.3 870.3,660.3 870.8,659.4 871.3,658.5 871.9,657.6 872.4,656.7 872.9,658.2 873.5,659.5 874.0,660.8 874.5,661.0 875.1,659.8 875.6,658.5 876.1,657.3 876.6,656.1 877.2,657.3 877.7,658.7 878.2,660.1 878.8,660.5 879.3,660.7 879.8,660.9 880.4,661.0 880.9,660.4 881.4,659.6 882.0,658.7 882.5,657.8 883.0,656.7 883.6,655.7 884.1,654.7 884.6,653.8 885.2,652.9 885.7,652.1 886.2,653.2 886.7,657.4 887.3,660.7 887.8,660.9 888.3,661.0 888.9,661.1 889.4,661.1 889.9,659.7 890.5,658.2 891.0,656.7 891.5,655.2 892.1,656.7 892.6,658.3 893.1,659.9 893.7,660.3 894.2,659.8 894.7,659.3 895.3,658.8 895.8,658.4 896.3,659.3 896.8,659.2 897.4,658.2 897.9,657.2 898.4,656.1 899.0,654.9 899.5,653.8 900.0,652.7 900.6,651.6 901.1,650.6 901.6,649.7 902.2,648.9 902.7,648.1 903.2,647.3 903.8,650.9 904.3,657.3 904.8,661.1 905.3,661.1 905.9,661.0 906.4,660.8 906.9,660.7 907.5,659.4 908.0,658.0 908.5,656.5 909.1,655.2 909.6,654.0 910.1,656.1 910.7,658.3 911.2,660.4 911.7,661.0 912.3,661.1 912.8,661.1 912.8,671.4 912.3,671.4 911.7,671.4 911.2,671.4 910.7,671.4 910.1,671.4 909.6,671.4 909.1,671.4 908.5,671.4 908.0,671.4 907.5,671.4 906.9,671.4 906.4,671.4 905.9,671.4 905.3,671.4 904.8,671.4 904.3,671.4 903.8,671.4 903.2,671.4 902.7,671.4 902.2,671.4 901.6,671.4 901.1,671.4 900.6,671.4 900.0,671.4 899.5,671.4 899.0,671.4 898.4,671.4 897.9,671.4 897.4,671.4 896.8,671.4 896.3,671.4 895.8,671.4 895.3,671.4 894.7,671.4 894.2,671.4 893.7,671.4 893.1,671.4 892.6,671.4 892.1,671.4 891.5,671.4 891.0,671.4 890.5,671.4 889.9,671.4 889.4,671.4 888.9,671.4 888.3,671.4 887.8,671.4 887.3,671.4 886.7,671.4 886.2,671.4 885.7,671.4 885.2,671.4 884.6,671.4 884.1,671.4 883.6,671.4 883.0,671.4 882.5,671.4 882.0,671.4 881.4,671.4 880.9,671.4 880.4,671.4 879.8,671.4 879.3,671.4 878.8,671.4 878.2,671.4 877.7,671.4 877.2,671.4 876.6,671.4 876.1,671.4 875.6,671.4 875.1,671.4 874.5,671.4 874.0,671.4 873.5,671.4 872.9,671.4 872.4,671.4 871.9,671.4 871.3,671.4 870.8,671.4 870.3,671.4 869.7,671.4 869.2,671.4 868.7,671.4 868.1,671.4 867.6,671.4 867.1,671.4 866.5,671.4 866.0,671.4 865.5,671.4 865.0,671.4 864.4,671.4 863.9,671.4 863.4,671.4 862.8,671.4 862.3,671.4 861.8,671.4 861.2,671.4 860.7,671.4 860.2,671.4 859.6,671.4 859.1,671.4 858.6,671.4 858.0,671.4 857.5,671.4 857.0,671.4 856.5,671.4 855.9,671.4 855.4,671.4 854.9,671.4 854.3,671.4 853.8,671.4 853.3,671.4 852.7,671.4 852.2,671.4 851.7,671.4 851.1,671.4 850.6,671.4 850.1,671.4 849.5,671.4 849.0,671.4 848.5,671.4 847.9,671.4 847.4,671.4 846.9,671.4 846.4,671.4 845.8,671.4 845.3,671.4 844.8,671.4 844.2,671.4 843.7,671.4 843.2,671.4 842.6,671.4 842.1,671.4 841.6,671.4 841.0,671.4 840.5,671.4 840.0,671.4 839.4,671.4 838.9,671.4 838.4,671.4 837.8,671.4 837.3,671.4 836.8,671.4 836.3,671.4 835.7,671.4 835.2,671.4 834.7,671.4 834.1,671.4 833.6,671.4 833.1,671.4 832.5,671.4 832.0,671.4 831.5,671.4 830.9,671.4 830.4,671.4 829.9,671.4 829.3,671.4 828.8,671.4 828.3,671.4 827.8,671.4 827.2,671.4 826.7,671.4 826.2,671.4 825.6,671.4 825.1,671.4 824.6,671.4 824.0,671.4 823.5,671.4 823.0,671.4 822.4,671.4 821.9,671.4 821.4,671.4 820.8,671.4 820.3,671.4 819.8,671.4 819.2,671.4 818.7,671.4 818.2,671.4 817.7,671.4 817.1,671.4 816.6,671.4 816.1,671.4 815.5,671.4 815.0,671.4 814.5,671.4 813.9,671.4 813.4,671.4 812.9,671.4 812.3,671.4 811.8,671.4 811.3,671.4 810.7,671.4 810.2,671.4 809.7,671.4 809.1,671.4 808.6,671.4 808.1,671.4 807.6,671.4 807.0,671.4 806.5,671.4 806.0,671.4 805.4,671.4 804.9,671.4 804.4,671.4 803.8,671.4 803.3,671.4 802.8,671.4 802.2,671.4 801.7,671.4 801.2,671.4 800.6,671.4 800.1,671.4 799.6,671.4 799.0,671.4 798.5,671.4 798.0,671.4 797.5,671.4 796.9,671.4 796.4,671.4 795.9,671.4 795.3,671.4 794.8,671.4 794.3,671.4 793.7,671.4 793.2,671.4 792.7,671.4 792.1,671.4 791.6,671.4 791.1,671.4 790.5,671.4 790.0,671.4 789.5,671.4 789.0,671.4 788.4,671.4 787.9,671.4 787.4,671.4 786.8,671.4 786.3,671.4 785.8,671.4 785.2,671.4 784.7,671.4 784.2,671.4 783.6,671.4 783.1,671.4 782.6,671.4 782.0,671.4 781.5,671.4 781.0,671.4 780.4,671.4 779.9,671.4 779.4,671.4 778.9,671.4 778.3,671.4 777.8,671.4 777.3,671.4 776.7,671.4 776.2,671.4 775.7,671.4 775.1,671.4 774.6,671.4 774.1,671.4 773.5,671.4 773.0,671.4 772.5,671.4 771.9,671.4 771.4,671.4 770.9,671.4 770.3,671.4 769.8,671.4 769.3,671.4 768.8,671.4 768.2,671.4 767.7,671.4 767.2,671.4 766.6,671.4 766.1,671.4 765.6,671.4 765.0,671.4 764.5,671.4 764.0,671.4 763.4,671.4 762.9,671.4 762.4,671.4 761.8,671.4 761.3,671.4 760.8,671.4 760.2,671.4 759.7,671.4 759.2,671.4 758.7,671.4 758.1,671.4 757.6,671.4 757.1,671.4 756.5,671.4 756.0,671.4 755.5,671.4 754.9,671.4 754.4,671.4 753.9,671.4 753.3,671.4 752.8,671.4 752.3,671.4 751.7,671.4 751.2,671.4 750.7,671.4 750.2,671.4 749.6,671.4 749.1,671.4 748.6,671.4 748.0,671.4 747.5,671.4 747.0,671.4 746.4,671.4 745.9,671.4 745.4,671.4 744.8,671.4 744.3,671.4 743.8,671.4 743.2,671.4 742.7,671.4 742.2,671.4 741.6,671.4 741.1,671.4 740.6,671.4 740.1,671.4 739.5,671.4 739.0,671.4 738.5,671.4 737.9,671.4 737.4,671.4 736.9,671.4 736.3,671.4 735.8,671.4 735.3,671.4 734.7,671.4 734.2,671.4 733.7,671.4 733.1,671.4 732.6,671.4 732.1,671.4 731.2,670.4 695.9,670.4 685.9,668.6 675.8,663.6 665.7,659.8 661.9,654.8 656.9,654.8 651.9,661.1 648.1,649.7 643.6,644.7 641.8,624.5 639.3,633.4 635.5,627.1 635.0,626.9 632.9,623.9 630.7,627.9 628.6,622.8 626.7,624.5 626.5,624.1 624.4,623.4 622.2,624.5 620.4,622.0 620.1,623.2 618.0,627.1 616.6,632.1 615.9,631.0 613.7,630.0 611.6,630.6 610.3,627.1 609.5,623.9 607.3,622.3 605.3,622.0 605.2,624.7 603.1,630.2 601.5,634.6 601.0,631.9 598.8,627.6 596.7,624.3 595.9,624.5 594.6,623.4 592.5,623.2 590.3,624.2 588.2,625.9 586.1,622.6 584.3,623.3 584.0,626.0 581.8,627.6 579.7,629.4 579.3,630.8 577.6,630.6 575.5,637.4 574.8,635.9 573.3,630.1 571.2,629.4 570.5,625.8 569.1,626.6 567.0,625.3 565.4,623.3 564.8,621.7 562.7,626.8 560.6,627.1 560.4,627.1 558.4,625.1 556.3,623.8 554.2,625.6 554.1,623.3 552.1,631.6 550.3,634.6 549.9,635.2 547.8,628.0 546.5,627.1 545.7,628.2 543.6,621.2 541.4,617.6 540.3,618.2 539.3,618.7 537.2,628.4 535.1,634.1 534.0,638.4 532.9,638.1 530.8,630.4 528.9,629.6 528.7,631.1 526.6,627.7 524.4,621.1 522.3,623.2 521.4,619.5 520.2,621.9 518.1,633.8 517.6,634.6 515.9,631.6 513.8,627.0 512.5,625.8 511.7,626.2 509.6,629.3 507.4,627.9 506.2,629.6 505.3,627.2 503.2,625.4 501.0,618.3 498.9,617.9 498.7,617.0 496.8,619.3 494.7,621.8 493.7,625.8 492.5,622.6 490.4,620.0 488.6,619.5 488.3,619.1 486.2,620.9 484.0,626.1 482.3,625.8 481.9,627.8 479.8,624.3 477.7,623.4 477.3,620.8 475.5,622.0 473.4,627.9 471.3,630.6 471.0,630.8 469.2,630.3 467.0,623.4 464.9,623.1 464.7,620.8 462.8,621.7 460.7,616.1 458.5,614.3 458.4,615.7 456.4,621.2 454.3,620.5 452.1,625.0 452.1,627.1 450.0,624.9 447.9,619.6 445.8,620.2 444.5,617.0 443.6,617.4 441.5,625.9 439.5,629.6 439.4,631.6 437.3,625.8 435.1,623.0 433.0,619.5 431.9,620.8 430.9,624.0 428.8,629.7 426.9,634.6 426.6,633.2 424.5,633.3 422.4,630.3 421.9,632.1 420.3,631.5 418.1,626.7 418.1,625.8 416.0,632.3 414.3,633.4 413.9,632.8 411.8,628.4 409.6,630.9 409.3,628.3 407.5,631.3 405.4,634.5 403.3,635.9 403.0,634.6 401.1,626.6 400.5,622.0 399.0,624.6 396.7,627.1 393.4,643.4 389.1,654.8 384.8,649.7 381.6,664.8 377.8,668.6 365.2,669.9 340.0,670.4 338.7,671.4 338.1,671.4 337.6,671.4 337.1,671.4 336.5,671.4 336.0,671.4 335.5,671.4 334.9,671.4 334.4,671.4 333.9,671.4 333.3,671.4 332.8,671.4 332.3,671.4 331.8,671.4 331.2,671.4 330.7,671.4 330.2,671.4 329.6,671.4 329.1,671.4 328.6,671.4 328.0,671.4 327.5,671.4 327.0,671.4 326.4,671.4 325.9,671.4 325.4,671.4 324.8,671.4 324.3,671.4 323.8,671.4 323.3,671.4 322.7,671.4 322.2,671.4 321.7,671.4 321.1,671.4 320.6,671.4 320.1,671.4 319.5,671.4 319.0,671.4 318.5,671.4 317.9,671.4 317.4,671.4 316.9,671.4 316.3,671.4 315.8,671.4 315.3,671.4 314.7,671.4 314.2,671.4 313.7,671.4 313.2,671.4 312.6,671.4 312.1,671.4 311.6,671.4 311.0,671.4 310.5,671.4 310.0,671.4 309.4,671.4 308.9,671.4 308.4,671.4 307.8,671.4 307.3,671.4 306.8,671.4 306.2,671.4 305.7,671.4 305.2,671.4 304.6,671.4 304.1,671.4 303.6,671.4 303.1,671.4 302.5,671.4 302.0,671.4 301.5,671.4 300.9,671.4 300.4,671.4 299.9,671.4 299.3,671.4 298.8,671.4 298.3,671.4 297.7,671.4 297.2,671.4 296.7,671.4 296.1,671.4 295.6,671.4 295.1,671.4 294.5,671.4 294.0,671.4 293.5,671.4 293.0,671.4 292.4,671.4 291.9,671.4 291.4,671.4 290.8,671.4 290.3,671.4 289.8,671.4 289.2,671.4 288.7,671.4 288.2,671.4 287.6,671.4 287.1,671.4 286.6,671.4 286.0,671.4 285.5,671.4 285.0,671.4 284.5,671.4 283.9,671.4 283.4,671.4 282.9,671.4 282.3,671.4 281.8,671.4 281.3,671.4 280.7,671.4 280.2,671.4 279.7,671.4 279.1,671.4 278.6,671.4 278.1,671.4 277.5,671.4 277.0,671.4 276.5,671.4 275.9,671.4 275.4,671.4 274.9,671.4 274.4,671.4 273.8,671.4 273.3,671.4 272.8,671.4 272.2,671.4 271.7,671.4 271.2,671.4 270.6,671.4 270.1,671.4 269.6,671.4 269.0,671.4 268.5,671.4 268.0,671.4 267.4,671.4 266.9,671.4 266.4,671.4 265.8,671.4 265.3,671.4 264.8,671.4 264.3,671.4 263.7,671.4 263.2,671.4 262.7,671.4 262.1,671.4 261.6,671.4 261.1,671.4 260.5,671.4 260.0,671.4 259.5,671.4 258.9,671.4 258.4,671.4 257.9,671.4 257.3,671.4 256.8,671.4 256.3,671.4 255.7,671.4 255.2,671.4 254.7,671.4 254.2,671.4 253.6,671.4 253.1,671.4 252.6,671.4 252.0,671.4 251.5,671.4 251.0,671.4 250.4,671.4 249.9,671.4 249.4,671.4 248.8,671.4 248.3,671.4 247.8,671.4 247.2,671.4 246.7,671.4 246.2,671.4 245.7,671.4 245.1,671.4 244.6,671.4 244.1,671.4 243.5,671.4 243.0,671.4 242.5,671.4 241.9,671.4 241.4,671.4 240.9,671.4 240.3,671.4 239.8,671.4 239.3,671.4 238.7,671.4 238.2,671.4 237.7,671.4 237.1,671.4 236.6,671.4 236.1,671.4 235.6,671.4 235.0,671.4 234.5,671.4 234.0,671.4 233.4,671.4 232.9,671.4 232.4,671.4 231.8,671.4 231.3,671.4 230.8,671.4 230.2,671.4 229.7,671.4 229.2,671.4 228.6,671.4 228.1,671.4 227.6,671.4 227.0,671.4 226.5,671.4 226.0,671.4 225.5,671.4 224.9,671.4 224.4,671.4 223.9,671.4 223.3,671.4 222.8,671.4 222.3,671.4 221.7,671.4 221.2,671.4 220.7,671.4 220.1,671.4 219.6,671.4 219.1,671.4 218.5,671.4 218.0,671.4 217.5,671.4 217.0,671.4 216.4,671.4 215.9,671.4 215.4,671.4 214.8,671.4 214.3,671.4 213.8,671.4 213.2,671.4 212.7,671.4 212.2,671.4 211.6,671.4 211.1,671.4 210.6,671.4 210.0,671.4 209.5,671.4 209.0,671.4 208.4,671.4 207.9,671.4 207.4,671.4 206.9,671.4 206.3,671.4 205.8,671.4 205.3,671.4 204.7,671.4 204.2,671.4 203.7,671.4 203.1,671.4 202.6,671.4 202.1,671.4 201.5,671.4 201.0,671.4 200.5,671.4 199.9,671.4 199.4,671.4 198.9,671.4 198.3,671.4 197.8,671.4 197.3,671.4 196.8,671.4 196.2,671.4 195.7,671.4 195.2,671.4 194.6,671.4 194.1,671.4 193.6,671.4 193.0,671.4 192.5,671.4 192.0,671.4 191.4,671.4 190.9,671.4 190.4,671.4 189.8,671.4 189.3,671.4 188.8,671.4 188.2,671.4 187.7,671.4 187.2,671.4 186.7,671.4 186.1,671.4 185.6,671.4 185.1,671.4 184.5,671.4 184.0,671.4 183.5,671.4 182.9,671.4 182.4,671.4 181.9,671.4 181.3,671.4 180.8,671.4 180.3,671.4 179.7,671.4 179.2,671.4 178.7,671.4 178.2,671.4 177.6,671.4 177.1,671.4 176.6,671.4 176.0,671.4 175.5,671.4 175.0,671.4 174.4,671.4 173.9,671.4 173.4,671.4 172.8,671.4 172.3,671.4 171.8,671.4 171.2,671.4 170.7,671.4 170.2,671.4 169.6,671.4 169.1,671.4 168.6,671.4 168.1,671.4 167.5,671.4 167.0,671.4 166.5,671.4 165.9,671.4 165.4,671.4 164.9,671.4 164.3,671.4 163.8,671.4 163.3,671.4 162.7,671.4 162.2,671.4 161.7,671.4 161.1,671.4 160.6,671.4 160.1,671.4 159.5,671.4 159.0,671.4 158.5,671.4 158.0,671.4 157.4,671.4 156.9,671.4 156.4,671.4 155.8,671.4 155.3,671.4 154.8,671.4 154.2,671.4 153.7,671.4 153.2,671.4 152.6,671.4 152.1,671.4 151.6,671.4 151.0,671.4 150.5,671.4 150.0,671.4 149.4,671.4 148.9,671.4 148.4,671.4 147.9,671.4 147.3,671.4 146.8,671.4 146.3,671.4 145.7,671.4 145.2,671.4 144.7,671.4 144.1,671.4 143.6,671.4 143.1,671.4 142.5,671.4 142.0,671.4 141.5,671.4 140.9,671.4 140.4,671.4 139.9,671.4 139.4,671.4 138.8,671.4 138.3,671.4 137.8,671.4 137.2,671.4"/>
<polygon fill="#666666" points="137.2,663.3 137.8,663.1 138.3,663.1 138.8,662.5 139.4,661.4 139.9,660.3 140.4,660.6 140.9,662.4 141.5,663.8 142.0,664.2 142.5,663.5 143.1,663.4 143.6,663.7 144.1,663.8 144.7,663.5 145.2,663.3 145.7,663.8 146.3,664.6 146.8,664.8 147.3,664.3 147.9,663.8 148.4,663.7 148.9,663.9 149.4,663.6 150.0,662.6 150.5,662.0 151.0,662.2 151.6,662.6 152.1,662.4 152.6,661.7 153.2,661.0 153.7,660.7 154.2,660.5 154.8,659.8 155.3,658.7 155.8,658.0 156.4,658.1 156.9,658.4 157.4,658.2 158.0,657.6 158.5,657.1 159.0,657.0 159.5,656.8 160.1,658.4 160.6,661.2 161.1,663.0 161.7,663.4 162.2,663.9 162.7,663.6 163.3,662.9 163.8,662.5 164.3,662.5 164.9,663.2 165.4,663.5 165.9,663.3 166.5,662.9 167.0,662.7 167.5,662.6 168.1,662.1 168.6,662.0 169.1,662.8 169.6,664.1 170.2,664.9 170.7,664.1 171.2,662.7 171.8,661.8 172.3,661.3 172.8,661.6 173.4,662.2 173.9,662.7 174.4,663.5 175.0,664.2 175.5,664.1 176.0,663.3 176.6,662.1 177.1,661.7 177.6,662.6 178.2,663.2 178.7,663.4 179.2,662.9 179.7,662.7 180.3,663.0 180.8,662.9 181.3,662.4 181.9,662.7 182.4,663.5 182.9,664.4 183.5,663.6 184.0,662.2 184.5,661.1 185.1,660.7 185.6,662.2 186.1,663.3 186.7,663.9 187.2,663.9 187.7,664.0 188.2,664.0 188.8,663.5 189.3,662.4 189.8,662.2 190.4,662.8 190.9,663.7 191.4,663.9 192.0,663.3 192.5,662.7 193.0,662.6 193.6,662.5 194.1,662.5 194.6,662.6 195.2,662.8 195.7,663.4 196.2,663.6 196.8,663.0 197.3,662.0 197.8,661.5 198.3,661.9 198.9,663.3 199.4,663.9 199.9,663.8 200.5,662.8 201.0,662.3 201.5,661.8 202.1,661.4 202.6,661.7 203.1,662.6 203.7,664.0 204.2,664.4 204.7,664.1 205.3,663.4 205.8,662.9 206.3,663.3 206.9,663.7 207.4,663.5 207.9,663.0 208.4,663.1 209.0,663.8 209.5,664.4 210.0,664.3 210.6,664.0 211.1,664.1 211.6,664.4 212.2,664.0 212.7,663.0 213.2,662.0 213.8,661.7 214.3,661.9 214.8,662.0 215.4,661.5 215.9,661.0 216.4,661.0 217.0,661.1 217.5,662.0 218.0,662.9 218.5,663.2 219.1,663.2 219.6,663.6 220.1,663.8 220.7,663.6 221.2,663.4 221.7,663.4 222.3,663.5 222.8,663.0 223.3,662.3 223.9,662.4 224.4,663.0 224.9,663.8 225.5,663.7 226.0,662.8 226.5,662.2 227.0,662.2 227.6,662.4 228.1,663.2 228.6,663.4 229.2,663.6 229.7,663.8 230.2,664.0 230.8,663.7 231.3,662.8 231.8,662.3 232.4,662.6 232.9,663.0 233.4,662.7 234.0,662.0 234.5,661.4 235.0,661.3 235.6,661.0 236.1,660.2 236.6,660.4 237.1,661.9 237.7,663.5 238.2,664.2 238.7,664.2 239.3,663.5 239.8,663.0 240.3,663.0 240.9,662.9 241.4,662.9 241.9,662.7 242.5,663.0 243.0,663.3 243.5,663.5 244.1,663.1 244.6,662.6 245.1,663.0 245.7,664.0 246.2,664.6 246.7,663.6 247.2,662.5 247.8,661.9 248.3,661.8 248.8,661.6 249.4,661.1 249.9,660.5 250.4,660.5 251.0,660.9 251.5,662.8 252.0,664.0 252.6,663.7 253.1,663.6 253.6,663.5 254.2,663.0 254.7,662.0 255.2,661.3 255.7,661.9 256.3,663.4 256.8,664.4 257.3,664.0 257.9,663.1 258.4,662.6 258.9,662.4 259.5,662.5 260.0,662.5 260.5,662.7 261.1,663.4 261.6,663.8 262.1,663.6 262.7,662.8 263.2,662.1 263.7,662.7 264.3,663.5 264.8,663.3 265.3,662.1 265.8,661.3 266.4,661.2 266.9,661.5 267.4,661.3 268.0,660.6 268.5,660.2 269.0,660.2 269.6,660.1 270.1,659.3 270.6,658.1 271.2,657.3 271.7,657.1 272.2,657.2 272.8,660.2 273.3,663.0 273.8,663.8 274.4,664.4 274.9,664.6 275.4,663.8 275.9,662.5 276.5,661.7 277.0,661.4 277.5,661.2 278.1,660.5 278.6,659.8 279.1,659.6 279.7,659.9 280.2,659.9 280.7,659.2 281.3,658.1 281.8,657.4 282.3,657.8 282.9,660.9 283.4,663.5 283.9,663.1 284.5,663.3 285.0,663.7 285.5,663.7 286.0,663.0 286.6,662.1 287.1,662.4 287.6,663.3 288.2,663.8 288.7,663.5 289.2,662.5 289.8,662.2 290.3,662.3 290.8,662.2 291.4,662.5 291.9,663.0 292.4,663.9 293.0,664.5 293.5,664.0 294.0,662.9 294.5,661.9 295.1,661.7 295.6,662.6 296.1,663.4 296.7,663.7 297.2,663.8 297.7,664.3 298.3,664.4 298.8,663.7 299.3,662.3 299.9,661.2 300.4,661.5 300.9,662.6 301.5,663.4 302.0,663.5 302.5,663.3 303.1,663.4 303.6,663.5 304.1,662.8 304.6,662.3 305.2,662.5 305.7,663.2 306.2,663.5 306.8,662.9 307.3,662.1 307.8,661.8 308.4,662.1 308.9,662.4 309.4,661.9 310.0,661.0 310.5,660.3 311.0,660.0 311.6,659.7 312.1,658.9 312.6,660.0 313.2,662.2 313.7,663.8 314.2,664.5 314.7,664.3 315.3,663.6 315.8,663.1 316.3,663.0 316.9,663.0 317.4,662.9 317.9,662.7 318.5,663.0 319.0,663.5 319.5,663.8 320.1,663.4 320.6,662.9 321.1,663.0 321.7,663.9 322.2,664.3 322.7,663.9 323.3,662.7 323.8,662.1 324.3,662.0 324.8,661.8 325.4,662.1 325.9,662.7 326.4,663.8 327.0,664.7 327.5,664.3 328.0,663.2 328.6,662.0 329.1,661.4 329.6,662.1 330.2,662.9 330.7,663.2 331.2,663.4 331.8,663.5 332.3,663.6 332.8,663.2 333.3,662.1 333.9,662.0 334.4,662.7 334.9,663.6 335.5,663.7 336.0,662.9 336.5,662.4 337.1,662.7 337.6,663.0 338.1,663.5 338.7,663.6 340.0,663.6 365.2,662.3 377.8,656.0 381.6,647.2 384.8,623.3 389.1,629.6 393.4,614.5 396.7,591.8 397.9,571.6 399.0,574.7 401.1,576.1 401.7,574.2 403.3,573.4 405.4,575.7 405.5,577.9 407.5,577.0 409.3,572.9 409.6,574.5 411.8,576.3 413.0,576.7 413.9,573.5 416.0,569.3 416.8,566.6 418.1,571.4 420.3,578.1 421.1,580.5 422.4,572.3 424.4,564.1 424.5,564.0 426.6,568.0 428.2,571.6 428.8,570.5 430.9,564.0 431.2,560.3 433.0,561.9 434.5,559.0 435.1,560.5 437.3,563.7 439.4,566.5 439.5,567.9 441.5,558.4 443.6,550.9 444.5,550.2 445.8,552.1 447.9,554.9 448.3,556.5 450.0,559.3 452.1,564.1 452.1,566.0 454.3,558.4 455.9,554.0 456.4,554.7 458.5,554.6 460.7,555.1 460.9,557.8 462.8,555.6 464.7,555.3 464.9,553.8 467.0,559.5 469.2,565.9 471.0,566.6 471.3,567.1 473.4,561.9 475.5,563.0 476.0,560.3 477.7,563.1 479.8,564.4 481.1,564.1 481.9,565.1 484.0,561.7 486.1,557.8 486.2,559.4 488.3,560.7 489.9,564.1 490.4,565.5 492.5,561.1 493.7,556.5 494.7,553.7 496.8,554.7 497.4,552.8 498.9,557.3 501.0,561.0 501.2,561.6 503.2,563.0 505.0,564.1 505.3,563.6 507.4,563.0 508.8,559.0 509.6,560.6 511.7,566.6 512.5,566.6 513.8,565.8 515.9,568.6 516.3,566.6 518.1,562.9 520.1,554.0 520.2,553.9 522.3,558.2 524.4,563.8 525.1,562.8 526.6,565.4 528.7,566.3 528.9,566.6 530.8,567.1 532.9,569.7 534.0,571.6 535.1,570.2 537.2,562.8 539.3,562.0 540.3,557.8 541.4,558.7 543.6,565.7 545.3,566.6 545.7,566.4 547.8,574.0 549.1,574.2 549.9,572.9 552.1,566.2 552.8,564.1 554.2,562.4 556.3,560.2 556.6,559.0 558.4,563.2 560.4,566.6 560.6,565.5 562.7,562.8 564.2,562.8 564.8,563.7 567.0,568.5 569.1,569.6 569.2,569.1 571.2,553.0 571.7,551.5 573.3,562.5 574.8,569.1 575.5,569.9 577.6,569.7 579.3,566.6 579.7,565.1 581.8,568.7 583.1,567.9 584.0,565.3 586.1,567.9 588.1,566.6 588.2,565.5 590.3,565.9 592.5,570.0 594.6,566.6 595.9,569.1 596.7,571.5 598.8,579.4 600.7,583.0 601.0,580.3 603.1,567.8 604.0,564.1 605.2,566.6 607.3,565.0 609.5,567.4 610.3,566.6 611.6,566.8 613.7,572.7 615.3,576.7 615.9,573.9 618.0,572.3 620.1,565.0 620.4,566.6 622.2,569.3 624.4,564.9 626.5,569.0 626.7,567.9 628.6,568.6 630.5,574.2 630.7,572.6 632.9,573.4 635.0,567.8 635.5,569.1 639.3,586.8 641.3,569.1 643.6,604.4 648.1,611.9 651.1,634.6 654.4,632.1 656.9,625.8 660.7,622.0 663.2,637.1 669.5,638.4 674.5,643.4 683.4,651.0 695.9,658.5 706.0,661.1 721.1,662.3 726.2,658.5 731.2,662.3 732.1,662.9 732.6,664.0 733.1,664.8 733.7,664.4 734.2,663.3 734.7,662.3 735.3,661.9 735.8,661.6 736.3,660.8 736.9,659.8 737.4,659.4 737.9,659.6 738.5,659.8 739.0,659.3 739.5,658.3 740.1,659.5 740.6,662.4 741.1,664.1 741.6,663.7 742.2,662.5 742.7,662.0 743.2,662.2 743.8,662.3 744.3,663.0 744.8,663.3 745.4,663.9 745.9,663.8 746.4,663.3 747.0,662.2 747.5,661.2 748.0,661.8 748.6,663.0 749.1,664.1 749.6,663.5 750.2,662.7 750.7,662.4 751.2,662.4 751.7,663.1 752.3,663.2 752.8,663.1 753.3,663.2 753.9,663.1 754.4,662.9 754.9,662.3 755.5,661.7 756.0,662.7 756.5,664.0 757.1,664.7 757.6,664.2 758.1,663.0 758.7,662.3 759.2,662.0 759.7,661.5 760.2,661.8 760.8,662.4 761.3,663.7 761.8,664.6 762.4,664.8 762.9,664.3 763.4,663.8 764.0,663.4 764.5,663.2 765.0,662.5 765.6,661.5 766.1,660.9 766.6,661.0 767.2,661.3 767.7,661.0 768.2,660.2 768.8,659.5 769.3,659.2 769.8,658.9 770.3,658.1 770.9,660.0 771.4,662.4 771.9,663.5 772.5,664.1 773.0,663.8 773.5,663.0 774.1,662.5 774.6,662.4 775.1,663.2 775.7,663.3 776.2,663.0 776.7,662.4 777.3,662.5 777.8,662.7 778.3,663.1 778.9,663.3 779.4,663.9 779.9,664.5 780.4,664.5 781.0,663.7 781.5,662.6 782.0,662.0 782.6,662.7 783.1,663.3 783.6,663.1 784.2,662.4 784.7,662.2 785.2,662.4 785.8,663.4 786.3,663.7 786.8,663.6 787.4,663.6 787.9,663.3 788.4,662.8 789.0,661.9 789.5,661.1 790.0,662.1 790.5,663.6 791.1,664.6 791.6,664.4 792.1,663.4 792.7,662.8 793.2,662.4 793.7,661.7 794.3,661.8 794.8,662.1 795.3,663.2 795.9,664.1 796.4,663.9 796.9,663.1 797.5,662.3 798.0,661.9 798.5,662.9 799.0,663.3 799.6,663.3 800.1,663.0 800.6,662.7 801.2,662.9 801.7,662.6 802.2,661.9 802.8,662.5 803.3,663.6 803.8,664.6 804.4,664.4 804.9,663.6 805.4,663.1 806.0,663.1 806.5,663.1 807.0,662.8 807.6,662.2 808.1,661.9 808.6,662.1 809.1,662.1 809.7,661.5 810.2,661.4 810.7,662.5 811.3,663.5 811.8,663.8 812.3,663.6 812.9,663.3 813.4,663.0 813.9,663.2 814.5,663.3 815.0,662.6 815.5,662.6 816.1,662.9 816.6,663.7 817.1,663.9 817.7,663.0 818.2,662.0 818.7,661.7 819.2,662.0 819.8,663.2 820.3,663.7 820.8,663.9 821.4,664.0 821.9,663.6 822.4,663.0 823.0,661.9 823.5,660.7 824.0,661.6 824.6,663.0 825.1,664.2 825.6,664.2 826.2,663.4 826.7,663.0 827.2,662.8 827.8,662.2 828.3,662.1 828.8,662.2 829.3,663.0 829.9,663.7 830.4,663.5 830.9,662.9 831.5,662.3 832.0,662.2 832.5,663.3 833.1,663.9 833.6,663.8 834.1,663.3 834.7,663.3 835.2,663.7 835.7,663.8 836.3,663.2 836.8,662.8 837.3,663.0 837.8,663.2 838.4,662.8 838.9,661.7 839.4,660.8 840.0,660.4 840.5,660.2 841.0,661.7 841.6,662.9 842.1,663.3 842.6,663.9 843.2,664.7 843.7,664.7 844.2,664.2 844.8,663.8 845.3,663.5 845.8,663.1 846.4,662.3 846.9,661.3 847.4,661.8 847.9,663.1 848.5,664.3 849.0,664.5 849.5,663.6 850.1,662.9 850.6,662.6 851.1,662.1 851.7,662.3 852.2,662.3 852.7,662.9 853.3,663.6 853.8,663.6 854.3,663.1 854.9,662.3 855.4,661.8 855.9,663.0 856.5,663.8 857.0,663.9 857.5,663.2 858.0,662.6 858.6,662.5 859.1,662.4 859.6,661.8 860.2,662.3 860.7,663.3 861.2,664.5 861.8,664.8 862.3,663.8 862.8,662.6 863.4,662.1 863.9,662.0 864.4,661.7 865.0,661.0 865.5,660.4 866.0,660.5 866.5,662.8 867.1,664.5 867.6,664.3 868.1,663.7 868.7,663.6 869.2,663.9 869.7,663.8 870.3,663.3 870.8,662.6 871.3,662.6 871.9,662.9 872.4,662.6 872.9,662.9 873.5,663.2 874.0,663.9 874.5,664.2 875.1,663.4 875.6,662.2 876.1,661.4 876.6,661.4 877.2,662.8 877.7,663.7 878.2,664.0 878.8,664.0 879.3,664.3 879.8,664.5 880.4,664.1 880.9,663.0 881.4,662.2 882.0,662.3 882.5,662.4 883.0,662.2 883.6,661.5 884.1,661.2 884.6,661.3 885.2,661.2 885.7,660.3 886.2,660.1 886.7,661.6 887.3,663.4 887.8,663.8 888.3,663.8 888.9,663.5 889.4,663.8 889.9,663.8 890.5,663.6 891.0,662.5 891.5,661.2 892.1,661.7 892.6,662.7 893.1,663.6 893.7,663.5 894.2,662.9 894.7,663.0 895.3,663.4 895.8,663.6 896.3,663.6 896.8,663.0 897.4,662.4 897.9,662.1 898.4,661.6 899.0,660.6 899.5,659.8 900.0,659.7 900.6,660.0 901.1,660.0 901.6,659.3 902.2,658.5 902.7,658.0 903.2,657.8 903.8,659.3 904.3,661.6 904.8,662.9 905.3,663.2 905.9,663.9 906.4,664.3 906.9,664.1 907.5,663.5 908.0,663.1 908.5,662.8 909.1,661.9 909.6,660.5 910.1,660.9 910.7,662.1 911.2,663.6 911.7,664.0 912.3,663.8 912.8,663.8 912.8,668.5 912.3,668.5 911.7,668.7 911.2,668.4 910.7,667.3 910.1,666.6 909.6,666.6 909.1,667.7 908.5,668.3 908.0,668.3 907.5,668.4 906.9,668.8 906.4,669.0 905.9,668.6 905.3,667.9 904.8,667.6 904.3,667.1 903.8,666.2 903.2,665.5 902.7,665.5 902.2,665.7 901.6,666.3 901.1,666.8 900.6,666.6 900.0,666.1 899.5,666.0 899.0,666.6 898.4,667.3 897.9,667.6 897.4,667.7 896.8,668.1 896.3,668.7 895.8,668.8 895.3,668.6 894.7,667.9 894.2,667.8 893.7,668.2 893.1,668.4 892.6,667.8 892.1,667.2 891.5,667.0 891.0,668.1 890.5,668.9 889.9,668.8 889.4,668.5 888.9,668.2 888.3,668.5 887.8,668.5 887.3,668.1 886.7,667.0 886.2,666.3 885.7,666.8 885.2,667.5 884.6,667.4 884.1,667.2 883.6,667.3 883.0,667.7 882.5,667.8 882.0,667.5 881.4,667.3 880.9,667.8 880.4,668.8 879.8,669.2 879.3,669.0 878.8,668.7 878.2,668.8 877.7,668.7 877.2,668.1 876.6,667.0 876.1,666.8 875.6,667.4 875.1,668.3 874.5,668.9 874.0,668.6 873.5,668.2 872.9,668.2 872.4,668.3 871.9,668.3 871.3,667.8 870.8,667.5 870.3,668.0 869.7,668.5 869.2,668.6 868.7,668.3 868.1,668.4 867.6,669.0 867.1,669.3 866.5,668.3 866.0,666.7 865.5,666.5 865.0,666.8 864.4,667.3 863.9,667.4 863.4,667.3 862.8,667.7 862.3,668.7 861.8,669.5 861.2,669.3 860.7,668.3 860.2,667.6 859.6,667.4 859.1,667.8 858.6,667.7 858.0,667.5 857.5,667.9 857.0,668.6 856.5,668.8 855.9,668.4 855.4,667.6 854.9,667.7 854.3,668.3 853.8,668.6 853.3,668.3 852.7,667.6 852.2,667.3 851.7,667.7 851.1,667.8 850.6,668.0 850.1,668.1 849.5,668.5 849.0,669.2 848.5,669.1 847.9,668.1 847.4,667.1 846.9,666.8 846.4,667.6 845.8,668.2 845.3,668.4 844.8,668.5 844.2,668.9 843.7,669.4 843.2,669.3 842.6,668.6 842.1,668.0 841.6,667.8 841.0,667.3 840.5,666.6 840.0,666.5 839.4,666.7 838.9,667.5 838.4,668.4 837.8,668.6 837.3,668.2 836.8,667.8 836.3,668.1 835.7,668.5 835.2,668.4 834.7,668.0 834.1,667.9 833.6,668.5 833.1,668.9 832.5,668.6 832.0,667.8 831.5,667.7 830.9,668.0 830.4,668.5 829.9,668.4 829.3,667.7 828.8,667.3 828.3,667.5 827.8,667.9 827.2,668.3 826.7,668.2 826.2,668.4 825.6,668.9 825.1,669.0 824.6,668.1 824.0,667.0 823.5,666.5 823.0,667.3 822.4,668.2 821.9,668.6 821.4,668.7 820.8,668.7 820.3,668.8 819.8,668.6 819.2,667.6 818.7,667.1 818.2,667.2 817.7,667.9 817.1,668.6 816.6,668.5 816.1,668.0 815.5,667.9 815.0,668.2 814.5,668.7 813.9,668.4 813.4,667.9 812.9,668.0 812.3,668.3 811.8,668.5 811.3,668.2 810.7,667.6 810.2,667.2 809.7,667.6 809.1,668.1 808.6,667.8 808.1,667.4 807.6,667.5 807.0,668.0 806.5,668.1 806.0,667.9 805.4,667.8 804.9,668.3 804.4,669.1 803.8,669.3 803.3,668.6 802.8,667.9 802.2,667.6 801.7,668.0 801.2,668.0 800.6,667.7 800.1,667.6 799.6,668.0 799.0,668.4 798.5,668.3 798.0,667.6 797.5,667.8 796.9,668.3 796.4,668.9 795.9,668.8 795.3,668.0 794.8,667.2 794.3,667.2 793.7,667.4 793.2,667.9 792.7,668.0 792.1,668.3 791.6,669.1 791.1,669.4 790.5,668.6 790.0,667.5 789.5,666.7 789.0,667.3 788.4,667.9 787.9,668.2 787.4,668.2 786.8,668.4 786.3,668.7 785.8,668.8 785.2,668.1 784.7,667.6 784.2,667.6 783.6,668.0 783.1,668.2 782.6,667.8 782.0,667.3 781.5,667.7 781.0,668.7 780.4,669.3 779.9,669.2 779.4,668.6 778.9,668.2 778.3,668.2 777.8,667.9 777.3,667.6 776.7,667.4 776.2,667.8 775.7,668.4 775.1,668.5 774.6,668.0 774.1,667.9 773.5,668.2 773.0,668.7 772.5,668.8 771.9,668.2 771.4,667.4 770.9,666.2 770.3,665.4 769.8,666.1 769.3,666.2 768.8,666.2 768.2,666.8 767.7,667.4 767.2,667.4 766.6,666.9 766.1,666.6 765.6,667.0 765.0,667.8 764.5,668.2 764.0,668.3 763.4,668.5 762.9,669.0 762.4,669.5 761.8,669.3 761.3,668.4 760.8,667.5 760.2,667.2 759.7,667.2 759.2,667.5 758.7,667.5 758.1,667.9 757.6,668.9 757.1,669.4 756.5,669.0 756.0,668.0 755.5,667.3 754.9,667.6 754.4,668.0 753.9,668.0 753.3,667.9 752.8,667.9 752.3,668.3 751.7,668.5 751.2,668.1 750.7,667.9 750.2,667.9 749.6,668.4 749.1,668.8 748.6,667.9 748.0,667.0 747.5,666.8 747.0,667.6 746.4,668.5 745.9,668.8 745.4,668.7 744.8,668.3 744.3,668.3 743.8,667.9 743.2,667.6 742.7,667.2 742.2,667.5 741.6,668.4 741.1,668.8 740.6,667.9 740.1,666.2 739.5,665.7 739.0,666.4 738.5,666.7 737.9,666.3 737.4,665.8 736.9,666.1 736.3,666.8 735.8,667.3 735.3,667.4 734.7,667.6 734.2,668.3 733.7,669.2 733.1,669.5 732.6,668.7 732.1,667.8 731.2,668.6 706.0,667.9 695.9,667.4 683.4,662.3 674.5,657.3 663.2,652.2 660.7,642.2 656.9,644.7 651.1,652.2 648.1,637.1 643.6,634.6 641.3,604.4 639.3,619.5 635.5,606.9 635.0,607.0 632.9,609.4 630.7,605.9 628.6,605.5 626.7,606.9 626.5,608.0 624.4,605.6 622.2,605.2 620.4,604.4 620.1,607.1 618.0,608.6 615.9,611.5 615.3,611.9 613.7,610.8 611.6,609.0 610.3,606.9 609.5,606.5 607.3,604.9 605.2,603.2 604.0,603.1 603.1,609.0 601.0,618.4 600.7,617.0 598.8,612.1 596.7,610.5 595.9,606.9 594.6,604.4 592.5,604.8 590.3,606.9 588.2,605.7 586.1,604.4 584.0,603.3 583.1,605.6 581.8,607.4 579.7,606.8 579.3,609.4 577.6,612.4 575.5,618.2 575.5,620.5 573.3,606.3 573.0,604.4 571.2,609.9 569.2,610.7 569.1,612.5 567.0,607.0 564.8,606.3 564.2,604.4 562.7,603.0 560.6,607.4 560.4,606.9 558.4,600.6 556.6,599.4 556.3,601.7 554.2,604.0 552.8,604.4 552.1,605.4 549.9,610.3 549.1,614.5 547.8,611.9 545.7,610.4 545.3,608.2 543.6,602.6 541.4,603.0 540.3,598.1 539.3,602.9 537.2,605.6 535.1,613.6 534.0,618.2 532.9,617.1 530.8,615.3 528.9,610.7 528.7,608.8 526.6,607.9 525.1,604.4 524.4,603.9 522.3,603.0 520.2,600.6 520.1,598.1 518.1,608.8 516.3,614.5 515.9,611.7 513.8,608.6 512.5,604.4 511.7,607.5 509.6,608.2 507.4,610.0 505.3,610.2 505.0,609.4 503.2,608.5 501.0,603.3 498.9,599.8 497.4,596.8 496.8,597.1 494.7,600.7 492.5,604.7 491.1,606.9 490.4,604.8 488.3,603.3 486.2,599.1 486.1,599.4 484.0,604.3 481.9,603.1 481.1,605.6 479.8,602.5 477.7,600.2 476.0,600.6 475.5,603.5 473.4,608.1 471.3,609.8 471.0,610.7 469.2,610.0 467.0,605.2 465.9,604.4 464.9,605.3 462.8,601.5 460.9,598.1 460.7,600.0 458.5,598.6 456.4,596.8 455.9,596.8 454.3,603.0 452.1,604.3 452.1,606.9 450.0,601.1 448.3,598.1 447.9,598.3 445.8,597.7 444.5,595.6 443.6,595.3 441.5,603.2 439.5,606.9 439.4,608.0 437.3,602.6 435.1,600.1 434.5,596.8 433.0,601.9 430.9,605.7 429.4,611.9 428.8,611.4 426.6,606.3 425.6,604.4 424.5,609.9 422.4,615.1 421.1,619.5 420.3,619.3 418.1,608.5 416.8,605.6 416.0,605.2 413.9,610.3 413.0,609.4 411.8,608.8 409.6,612.3 408.0,617.0 407.5,617.4 405.4,616.2 403.3,613.9 403.0,614.5 401.1,606.1 399.2,596.8 399.0,596.8 396.7,614.5 393.4,634.6 389.1,647.2 384.8,642.2 381.6,659.8 377.8,666.1 365.2,667.9 340.0,668.6 338.7,668.6 338.1,668.7 337.6,668.4 337.1,667.8 336.5,667.4 336.0,667.8 335.5,668.4 334.9,668.4 334.4,667.8 333.9,667.5 333.3,667.8 332.8,668.6 332.3,668.8 331.8,668.4 331.2,668.1 330.7,668.0 330.2,668.0 329.6,667.5 329.1,667.0 328.6,667.3 328.0,668.3 327.5,669.2 327.0,669.4 326.4,668.6 325.9,667.8 325.4,667.6 324.8,667.5 324.3,667.4 323.8,667.3 323.3,667.6 322.7,668.6 322.2,669.1 321.7,668.9 321.1,668.2 320.6,668.1 320.1,668.5 319.5,668.7 319.0,668.3 318.5,667.7 317.9,667.5 317.4,667.9 316.9,668.3 316.3,668.3 315.8,668.2 315.3,668.5 314.7,669.1 314.2,669.2 313.7,668.5 313.2,667.3 312.6,666.1 312.1,665.7 311.6,666.4 311.0,666.5 310.5,666.6 310.0,667.1 309.4,667.9 308.9,668.1 308.4,667.7 307.8,667.2 307.3,667.3 306.8,667.9 306.2,668.3 305.7,668.1 305.2,667.6 304.6,667.8 304.1,668.4 303.6,668.8 303.1,668.5 302.5,668.1 302.0,668.2 301.5,668.2 300.9,667.8 300.4,667.0 299.9,666.8 299.3,667.7 298.8,668.8 298.3,669.3 297.7,669.0 297.2,668.5 296.7,668.5 296.1,668.4 295.6,667.8 295.1,667.1 294.5,667.1 294.0,667.9 293.5,668.9 293.0,669.2 292.4,668.7 291.9,668.1 291.4,668.0 290.8,667.9 290.3,667.8 289.8,667.3 289.2,667.4 288.7,668.2 288.2,668.7 287.6,668.4 287.1,667.8 286.6,667.7 286.0,668.4 285.5,668.8 285.0,668.6 284.5,668.0 283.9,667.7 283.4,668.1 282.9,666.9 282.3,665.3 281.8,665.0 281.3,665.5 280.7,666.3 280.2,666.9 279.7,666.6 279.1,666.1 278.6,666.1 278.1,666.6 277.5,667.1 277.0,667.1 276.5,667.1 275.9,667.8 275.4,668.8 274.9,669.4 274.4,669.1 273.8,668.5 273.3,668.0 272.8,666.6 272.2,664.9 271.7,664.7 271.2,664.6 270.6,665.3 270.1,666.3 269.6,666.9 269.0,666.8 268.5,666.6 268.0,666.8 267.4,667.3 266.9,667.3 266.4,666.9 265.8,666.7 265.3,667.4 264.8,668.3 264.3,668.6 263.7,668.1 263.2,667.6 262.7,668.1 262.1,668.7 261.6,668.7 261.1,668.1 260.5,667.5 260.0,667.5 259.5,667.8 258.9,667.9 258.4,667.9 257.9,668.2 257.3,668.9 256.8,669.2 256.3,668.6 255.7,667.4 255.2,666.8 254.7,667.3 254.2,668.0 253.6,668.3 253.1,668.3 252.6,668.4 252.0,668.9 251.5,668.4 251.0,667.3 250.4,666.7 249.9,666.5 249.4,666.9 248.8,667.3 248.3,667.3 247.8,667.2 247.2,667.6 246.7,668.6 246.2,669.3 245.7,668.9 245.1,668.1 244.6,667.8 244.1,668.2 243.5,668.4 243.0,668.1 242.5,667.7 241.9,667.6 241.4,668.1 240.9,668.3 240.3,668.3 239.8,668.2 239.3,668.4 238.7,668.9 238.2,668.9 237.7,668.2 237.1,667.1 236.6,666.3 236.1,666.6 235.6,667.2 235.0,667.3 234.5,667.3 234.0,667.7 233.4,668.3 232.9,668.3 232.4,667.8 231.8,667.4 231.3,667.7 230.8,668.4 230.2,668.7 229.7,668.5 229.2,668.4 228.6,668.5 228.1,668.6 227.6,668.1 227.0,667.7 226.5,667.4 226.0,667.7 225.5,668.4 224.9,668.5 224.4,667.9 223.9,667.6 223.3,667.8 222.8,668.5 222.3,668.8 221.7,668.4 221.2,668.2 220.7,668.3 220.1,668.5 219.6,668.3 219.1,667.9 218.5,667.9 218.0,668.1 217.5,667.9 217.0,667.4 216.4,667.1 215.9,667.0 215.4,667.4 214.8,667.6 214.3,667.4 213.8,667.0 213.2,667.2 212.7,668.0 212.2,668.9 211.6,669.1 211.1,668.8 210.6,668.7 210.0,669.0 209.5,669.1 209.0,668.5 208.4,667.8 207.9,667.7 207.4,668.2 206.9,668.6 206.3,668.4 205.8,668.1 205.3,668.4 204.7,669.0 204.2,669.2 203.7,668.7 203.1,667.6 202.6,667.1 202.1,667.1 201.5,667.4 201.0,667.6 200.5,667.8 199.9,668.6 199.4,668.9 198.9,668.7 198.3,667.6 197.8,667.1 197.3,667.3 196.8,668.0 196.2,668.4 195.7,668.1 195.2,667.7 194.6,667.8 194.1,668.2 193.6,668.2 193.0,668.1 192.5,667.9 192.0,668.2 191.4,668.6 190.9,668.4 190.4,667.7 189.8,667.3 189.3,667.7 188.8,668.6 188.2,669.0 187.7,668.8 187.2,668.6 186.7,668.7 186.1,668.4 185.6,667.7 185.1,666.6 184.5,666.6 184.0,667.5 183.5,668.5 182.9,669.1 182.4,668.4 181.9,668.0 181.3,668.0 180.8,668.4 180.3,668.2 179.7,667.7 179.2,667.6 178.7,668.1 178.2,668.3 177.6,667.9 177.1,667.4 176.6,667.7 176.0,668.5 175.5,669.1 175.0,668.9 174.4,668.2 173.9,667.6 173.4,667.5 172.8,667.3 172.3,667.1 171.8,667.2 171.2,667.9 170.7,669.0 170.2,669.5 169.6,668.9 169.1,667.9 168.6,667.4 168.1,667.5 167.5,667.8 167.0,667.8 166.5,667.7 165.9,668.1 165.4,668.6 164.9,668.6 164.3,668.1 163.8,667.8 163.3,668.0 162.7,668.5 162.2,668.6 161.7,668.1 161.1,667.7 160.6,666.9 160.1,665.7 159.5,665.1 159.0,665.0 158.5,664.9 158.0,665.3 157.4,665.7 156.9,665.7 156.4,665.2 155.8,664.9 155.3,665.5 154.8,666.4 154.2,666.9 153.7,666.9 153.2,667.0 152.6,667.6 152.1,668.1 151.6,668.1 151.0,667.5 150.5,667.2 150.0,667.6 149.4,668.4 148.9,668.6 148.4,668.4 147.9,668.5 147.3,669.0 146.8,669.5 146.3,669.2 145.7,668.5 145.2,668.0 144.7,668.2 144.1,668.5 143.6,668.4 143.1,668.1 142.5,668.2 142.0,668.9 141.5,669.0 140.9,668.1 140.4,666.8 139.9,666.5 139.4,667.2 138.8,667.8 138.3,668.0 137.8,667.8 137.2,668.0"/>
<polyline fill="none" stroke="#fc8d62" stroke-width="4" stroke-linejoin="round" stroke-linecap="butt" points="137.2,665.2 137.8,665.0 138.3,665.2 138.8,664.8 139.4,663.9 139.9,663.1 140.4,663.3 140.9,664.9 141.5,666.0 142.0,666.2 142.5,665.5 143.1,665.3 143.6,665.6 144.1,665.7 144.7,665.4 145.2,665.2 145.7,665.7 146.3,666.5 146.8,666.7 147.3,666.3 147.9,665.7 148.4,665.6 148.9,665.8 149.4,665.5 150.0,664.7 150.5,664.2 151.0,664.4 151.6,664.9 152.1,664.9 152.6,664.3 153.2,663.6 153.7,663.4 154.2,663.3 154.8,662.7 155.3,661.7 155.8,661.1 156.4,661.3 156.9,661.7 157.4,661.7 158.0,661.1 158.5,660.7 159.0,660.7 159.5,660.7 160.1,661.8 160.6,663.7 161.1,664.9 161.7,665.3 162.2,665.8 162.7,665.6 163.3,665.0 163.8,664.8 164.3,664.9 164.9,665.5 165.4,665.6 165.9,665.3 166.5,664.9 167.0,664.8 167.5,664.8 168.1,664.4 168.6,664.3 169.1,665.0 169.6,666.1 170.2,666.8 170.7,666.1 171.2,664.9 171.8,664.1 172.3,663.8 172.8,664.1 173.4,664.4 173.9,664.7 174.4,665.4 175.0,666.1 175.5,666.2 176.0,665.5 176.6,664.5 177.1,664.1 177.6,664.9 178.2,665.3 178.7,665.3 179.2,664.8 179.7,664.8 180.3,665.2 180.8,665.2 181.3,664.8 181.9,665.0 182.4,665.5 182.9,666.3 183.5,665.6 184.0,664.5 184.5,663.5 185.1,663.3 185.6,664.5 186.1,665.5 186.7,665.9 187.2,665.9 187.7,666.0 188.2,666.1 188.8,665.6 189.3,664.6 189.8,664.4 190.4,664.8 190.9,665.6 191.4,665.8 192.0,665.4 192.5,664.9 193.0,665.0 193.6,665.0 194.1,665.0 194.6,664.8 195.2,664.9 195.7,665.4 196.2,665.6 196.8,665.1 197.3,664.3 197.8,664.0 198.3,664.4 198.9,665.6 199.4,666.0 199.9,665.7 200.5,664.9 201.0,664.6 201.5,664.2 202.1,663.9 202.6,664.0 203.1,664.7 203.7,665.9 204.2,666.4 204.7,666.1 205.3,665.5 205.8,665.1 206.3,665.5 206.9,665.7 207.4,665.4 207.9,664.9 208.4,665.0 209.0,665.7 209.5,666.3 210.0,666.3 210.6,666.0 211.1,666.0 211.6,666.4 212.2,666.0 212.7,665.1 213.2,664.2 213.8,663.9 214.3,664.3 214.8,664.4 215.4,664.1 215.9,663.6 216.4,663.7 217.0,663.9 217.5,664.5 218.0,665.1 218.5,665.2 219.1,665.1 219.6,665.6 220.1,665.8 220.7,665.6 221.2,665.3 221.7,665.5 222.3,665.7 222.8,665.4 223.3,664.7 223.9,664.6 224.4,665.0 224.9,665.7 225.5,665.6 226.0,664.8 226.5,664.4 227.0,664.6 227.6,664.9 228.1,665.5 228.6,665.5 229.2,665.6 229.7,665.7 230.2,665.9 230.8,665.6 231.3,664.8 231.8,664.4 232.4,664.8 232.9,665.3 233.4,665.1 234.0,664.5 234.5,664.0 235.0,663.9 235.6,663.8 236.1,663.0 236.6,663.0 237.1,664.1 237.7,665.5 238.2,666.1 238.7,666.1 239.3,665.5 239.8,665.2 240.3,665.3 240.9,665.2 241.4,665.1 241.9,664.7 242.5,665.0 243.0,665.3 243.5,665.5 244.1,665.2 244.6,664.8 245.1,665.2 245.7,666.0 246.2,666.5 246.7,665.7 247.2,664.6 247.8,664.1 248.3,664.2 248.8,664.1 249.4,663.6 249.9,663.2 250.4,663.3 251.0,663.7 251.5,665.3 252.0,666.0 252.6,665.6 253.1,665.5 253.6,665.5 254.2,665.1 254.7,664.3 255.2,663.7 255.7,664.3 256.3,665.6 256.8,666.4 257.3,666.0 257.9,665.2 258.4,664.9 258.9,664.7 259.5,664.8 260.0,664.6 260.5,664.7 261.1,665.3 261.6,665.8 262.1,665.7 262.7,665.1 263.2,664.5 263.7,665.0 264.3,665.7 264.8,665.4 265.3,664.3 265.8,663.6 266.4,663.7 266.9,664.0 267.4,663.9 268.0,663.4 268.5,663.1 269.0,663.2 269.6,663.2 270.1,662.5 270.6,661.4 271.2,660.6 271.7,660.6 272.2,660.7 272.8,663.0 273.3,665.1 273.8,665.7 274.4,666.3 274.9,666.6 275.4,665.9 275.9,664.7 276.5,664.0 277.0,663.9 277.5,663.8 278.1,663.2 278.6,662.6 279.1,662.5 279.7,662.9 280.2,663.1 280.7,662.4 281.3,661.5 281.8,660.9 282.3,661.2 282.9,663.5 283.4,665.4 283.9,665.0 284.5,665.3 285.0,665.7 285.5,665.9 286.0,665.3 286.6,664.5 287.1,664.7 287.6,665.5 288.2,665.8 288.7,665.4 289.2,664.5 289.8,664.4 290.3,664.7 290.8,664.7 291.4,664.9 291.9,665.2 292.4,665.9 293.0,666.5 293.5,666.0 294.0,665.0 294.5,664.1 295.1,664.0 295.6,664.8 296.1,665.5 296.7,665.7 297.2,665.8 297.7,666.2 298.3,666.4 298.8,665.8 299.3,664.6 299.9,663.6 300.4,663.9 300.9,664.8 301.5,665.4 302.0,665.4 302.5,665.3 303.1,665.5 303.6,665.7 304.1,665.2 304.6,664.7 305.2,664.7 305.7,665.2 306.2,665.5 306.8,665.0 307.3,664.3 307.8,664.1 308.4,664.5 308.9,664.9 309.4,664.5 310.0,663.7 310.5,663.1 311.0,662.9 311.6,662.7 312.1,662.0 312.6,662.7 313.2,664.4 313.7,665.8 314.2,666.4 314.7,666.3 315.3,665.6 315.8,665.2 316.3,665.2 316.9,665.2 317.4,665.0 317.9,664.7 318.5,665.0 319.0,665.5 319.5,665.8 320.1,665.5 320.6,665.1 321.1,665.2 321.7,666.0 322.2,666.3 322.7,665.8 323.3,664.8 323.8,664.3 324.3,664.3 324.8,664.2 325.4,664.5 325.9,664.9 326.4,665.8 327.0,666.6 327.5,666.4 328.0,665.3 328.6,664.3 329.1,663.8 329.6,664.4 330.2,665.0 330.7,665.2 331.2,665.3 331.8,665.5 332.3,665.8 332.8,665.5 333.3,664.5 333.9,664.3 334.4,664.9 334.9,665.6 335.5,665.6 336.0,664.9 336.5,664.5 337.1,664.8 337.6,665.3 338.1,665.7 338.7,665.7 340.0,666.1 355.1,666.9 365.2,665.3 372.7,662.3 377.8,659.8 381.6,652.2 384.8,629.6 389.1,634.6 393.4,622.0 395.9,606.9 398.4,586.8 399.0,586.4 401.1,594.5 401.7,594.3 403.3,597.0 405.4,596.9 405.5,598.1 407.5,596.1 409.3,594.3 409.6,594.3 411.8,596.6 413.0,596.8 413.9,595.9 416.0,587.2 416.8,586.8 418.1,590.1 420.3,602.4 421.1,604.4 422.4,596.2 424.4,584.2 424.5,585.9 426.6,590.7 427.7,596.8 428.8,589.2 430.7,576.7 430.9,577.6 433.0,574.7 434.5,575.4 435.1,579.1 437.3,584.2 439.4,585.7 439.5,588.0 441.5,578.3 443.6,572.6 444.5,569.1 445.8,572.3 447.9,572.0 448.3,572.9 450.0,576.8 452.1,584.2 452.1,583.7 454.3,575.6 455.9,572.9 456.4,571.8 458.5,573.3 460.7,574.1 460.9,574.2 462.8,572.4 464.7,572.9 464.9,572.2 467.0,576.4 469.2,581.7 471.0,585.5 471.3,584.0 473.4,579.1 475.5,579.0 476.0,576.7 477.7,578.2 479.8,580.1 481.1,580.5 481.9,578.2 484.0,579.6 486.1,575.4 486.2,577.1 488.3,577.4 489.9,581.7 490.4,579.9 492.5,577.4 493.7,574.2 494.7,574.4 496.8,574.0 497.4,571.6 498.9,574.3 501.0,580.3 501.2,579.2 503.2,583.2 505.0,585.5 505.3,584.8 507.4,587.5 508.8,588.0 509.6,589.2 511.7,587.6 512.5,585.5 513.8,587.2 515.9,590.4 516.3,590.5 518.1,580.4 520.1,572.9 520.2,571.9 522.3,577.0 524.4,577.9 525.1,579.2 526.6,580.1 528.7,585.3 528.9,585.5 530.8,589.7 532.9,593.3 534.0,594.3 535.1,590.2 537.2,583.7 539.3,577.2 540.3,574.2 541.4,578.1 543.6,581.7 545.3,585.5 545.7,586.1 547.8,592.2 549.1,595.6 549.9,590.6 552.1,583.5 552.8,583.0 554.2,581.2 556.3,578.1 556.6,575.4 558.4,580.1 560.4,584.2 560.6,583.6 562.7,580.5 564.2,580.5 564.8,581.6 567.0,587.4 569.1,590.2 569.2,589.3 571.2,573.6 571.7,569.1 573.3,586.0 574.8,598.1 575.5,595.2 577.6,591.1 579.3,586.8 579.7,588.3 581.8,584.6 583.1,583.0 584.0,583.2 586.1,583.5 588.1,585.5 588.2,585.7 590.3,586.8 591.9,584.2 592.5,582.2 594.6,586.3 595.9,585.5 596.7,587.2 598.8,588.4 599.0,586.8 600.7,596.8 601.0,596.6 603.1,585.5 604.0,579.2 605.2,580.5 607.3,582.8 607.8,583.0 609.5,583.8 611.6,585.5 611.6,583.6 613.7,589.3 615.3,589.3 615.9,589.9 618.0,589.7 619.1,591.8 620.1,587.9 621.6,581.7 622.2,581.9 624.4,582.4 626.5,583.5 626.7,584.2 628.6,585.7 630.5,586.8 630.7,587.4 632.9,588.1 634.2,588.0 635.0,586.3 636.8,583.0 639.3,604.4 641.3,584.2 643.6,622.0 648.1,624.5 651.1,644.7 654.4,642.2 656.9,632.1 660.7,630.8 663.2,645.9 667.0,644.7 669.5,647.2 674.5,649.7 678.3,653.5 683.4,656.0 689.6,659.8 695.9,663.6 701.0,662.3 706.0,664.8 713.6,665.3 721.1,666.1 726.2,662.3 731.2,666.1 732.1,664.9 732.6,666.0 733.1,666.7 733.7,666.4 734.2,665.4 734.7,664.6 735.3,664.3 735.8,664.1 736.3,663.4 736.9,662.6 737.4,662.3 737.9,662.6 738.5,662.9 739.0,662.5 739.5,661.7 740.1,662.5 740.6,664.8 741.1,666.1 741.6,665.6 742.2,664.6 742.7,664.2 743.2,664.5 743.8,664.7 744.3,665.2 744.8,665.4 745.4,665.9 745.9,665.9 746.4,665.5 747.0,664.5 747.5,663.6 748.0,664.0 748.6,665.0 749.1,666.0 749.6,665.5 750.2,664.9 750.7,664.8 751.2,664.8 751.7,665.4 752.3,665.3 752.8,665.1 753.3,665.1 753.9,665.2 754.4,665.1 754.9,664.6 755.5,664.1 756.0,665.0 756.5,666.1 757.1,666.6 757.6,666.1 758.1,665.0 758.7,664.5 759.2,664.4 759.7,664.0 760.2,664.1 760.8,664.6 761.3,665.6 761.8,666.5 762.4,666.7 762.9,666.2 763.4,665.7 764.0,665.5 764.5,665.3 765.0,664.7 765.6,663.8 766.1,663.3 766.6,663.6 767.2,664.0 767.7,663.8 768.2,663.1 768.8,662.5 769.3,662.4 769.8,662.2 770.3,661.5 770.9,662.7 771.4,664.5 771.9,665.4 772.5,666.1 773.0,665.8 773.5,665.2 774.1,664.8 774.6,664.8 775.1,665.5 775.7,665.5 776.2,665.0 776.7,664.5 777.3,664.7 777.8,664.9 778.3,665.2 778.9,665.3 779.4,665.8 779.9,666.4 780.4,666.5 781.0,665.8 781.5,664.8 782.0,664.2 782.6,664.8 783.1,665.4 783.6,665.2 784.2,664.6 784.7,664.5 785.2,664.9 785.8,665.7 786.3,665.8 786.8,665.6 787.4,665.5 787.9,665.3 788.4,665.0 789.0,664.2 789.5,663.5 790.0,664.4 790.5,665.7 791.1,666.6 791.6,666.3 792.1,665.4 792.7,665.0 793.2,664.8 793.7,664.2 794.3,664.1 794.8,664.3 795.3,665.2 795.9,666.0 796.4,666.0 796.9,665.3 797.5,664.7 798.0,664.4 798.5,665.2 799.0,665.5 799.6,665.2 800.1,664.9 800.6,664.8 801.2,665.1 801.7,664.9 802.2,664.4 802.8,664.8 803.3,665.7 803.8,666.5 804.4,666.3 804.9,665.5 805.4,665.0 806.0,665.1 806.5,665.2 807.0,665.0 807.6,664.5 808.1,664.3 808.6,664.6 809.1,664.7 809.7,664.1 810.2,663.9 810.7,664.6 811.3,665.4 811.8,665.7 812.3,665.5 812.9,665.2 813.4,665.0 813.9,665.4 814.5,665.6 815.0,665.0 815.5,664.8 816.1,665.0 816.6,665.7 817.1,665.8 817.7,665.0 818.2,664.2 818.7,664.0 819.2,664.4 819.8,665.5 820.3,665.8 820.8,665.9 821.4,665.9 821.9,665.7 822.4,665.2 823.0,664.2 823.5,663.2 824.0,663.9 824.6,665.1 825.1,666.2 825.6,666.2 826.2,665.5 826.7,665.2 827.2,665.2 827.8,664.6 828.3,664.5 828.8,664.3 829.3,664.9 829.9,665.6 830.4,665.6 830.9,665.1 831.5,664.6 832.0,664.6 832.5,665.6 833.1,666.0 833.6,665.7 834.1,665.2 834.7,665.2 835.2,665.6 835.7,665.7 836.3,665.2 836.8,664.9 837.3,665.2 837.8,665.5 838.4,665.2 838.9,664.2 839.4,663.4 840.0,663.1 840.5,663.0 841.0,664.1 841.6,664.9 842.1,665.2 842.6,665.9 843.2,666.6 843.7,666.6 844.2,666.1 844.8,665.7 845.3,665.5 845.8,665.3 846.4,664.6 846.9,663.6 847.4,664.0 847.9,665.1 848.5,666.3 849.0,666.4 849.5,665.6 850.1,665.1 850.6,664.9 851.1,664.6 851.7,664.6 852.2,664.4 852.7,664.8 853.3,665.5 853.8,665.7 854.3,665.3 854.9,664.6 855.4,664.3 855.9,665.3 856.5,665.9 857.0,665.8 857.5,665.2 858.0,664.6 858.6,664.7 859.1,664.7 859.6,664.2 860.2,664.5 860.7,665.4 861.2,666.5 861.8,666.7 862.3,665.8 862.8,664.8 863.4,664.3 863.9,664.3 864.4,664.1 865.0,663.5 865.5,663.1 866.0,663.2 866.5,665.1 867.1,666.5 867.6,666.2 868.1,665.6 868.7,665.6 869.2,665.8 869.7,665.7 870.3,665.2 870.8,664.6 871.3,664.8 871.9,665.2 872.4,665.1 872.9,665.2 873.5,665.3 874.0,665.8 874.5,666.1 875.1,665.4 875.6,664.4 876.1,663.7 876.6,663.8 877.2,665.1 877.7,665.8 878.2,666.0 878.8,665.9 879.3,666.2 879.8,666.4 880.4,666.0 880.9,665.0 881.4,664.3 882.0,664.5 882.5,664.7 883.0,664.6 883.6,664.0 884.1,663.8 884.6,664.0 885.2,664.0 885.7,663.2 886.2,662.8 886.7,663.9 887.3,665.4 887.8,665.7 888.3,665.7 888.9,665.5 889.4,665.7 889.9,665.9 890.5,665.8 891.0,664.9 891.5,663.7 892.1,664.0 892.6,664.8 893.1,665.6 893.7,665.4 894.2,664.9 894.7,665.0 895.3,665.6 895.8,665.8 896.3,665.8 896.8,665.1 897.4,664.6 897.9,664.5 898.4,664.1 899.0,663.2 899.5,662.5 900.0,662.5 900.6,663.0 901.1,663.1 901.6,662.5 902.2,661.8 902.7,661.5 903.2,661.4 903.8,662.4 904.3,664.0 904.8,664.9 905.3,665.2 905.9,665.9 906.4,666.2 906.9,666.0 907.5,665.5 908.0,665.3 908.5,665.2 909.1,664.4 909.6,663.2 910.1,663.4 910.7,664.3 911.2,665.6 911.7,665.9 912.3,665.7 912.8,665.7"/>
<polyline fill="none" stroke="#66c2a5" stroke-width="4" stroke-dasharray="10.9 10.901" points="138.9,669.9 140.0,669.9 141.1,669.9 142.1,669.9 143.2,669.9 144.2,669.9 145.3,669.9 146.4,669.9 147.4,669.9 148.5,669.9 149.6,669.9 150.6,669.9 151.7,669.9 152.7,669.9 153.8,669.9 154.9,669.9 155.9,669.9 157.0,669.9 158.1,669.9 159.1,669.9 160.2,669.9 161.2,669.9 162.3,669.9 163.4,669.9 164.4,669.9 165.5,669.9 166.6,669.9 167.6,669.9 168.7,669.9 169.8,669.9 170.8,669.9 171.9,669.9 172.9,669.9 174.0,669.9 175.1,669.9 176.1,669.9 177.2,669.9 178.3,669.9 179.3,669.9 180.4,669.9 181.4,669.9 182.5,669.9 183.6,669.9 184.6,669.9 185.7,669.9 186.8,669.9 187.8,669.9 188.9,669.9 190.0,669.9 191.0,669.9 192.1,669.9 193.1,669.9 194.2,669.9 195.3,669.9 196.3,669.9 197.4,669.9 198.5,669.9 199.5,669.9 200.6,669.9 201.6,669.9 202.7,669.9 203.8,669.9 204.8,669.9 205.9,669.9 207.0,669.9 208.0,669.9 209.1,669.9 210.1,669.9 211.2,669.9 212.3,669.9 213.3,669.9 214.4,669.9 215.5,669.9 216.5,669.9 217.6,669.9 218.7,669.9 219.7,669.9 220.8,669.9 221.8,669.9 222.9,669.9 224.0,669.9 225.0,669.9 226.1,669.9 227.2,669.9 228.2,669.9 229.3,669.9 230.3,669.9 231.4,669.9 232.5,669.9 233.5,669.9 234.6,669.9 235.7,669.9 236.7,669.9 237.8,669.9 238.8,669.9 239.9,669.9 241.0,669.9 242.0,669.9 243.1,669.9 244.2,669.9 245.2,669.9 246.3,669.9 247.4,669.9 248.4,669.9 249.5,669.9 250.5,669.9 251.6,669.9 252.7,669.9 253.7,669.9 254.8,669.9 255.9,669.9 256.9,669.9 258.0,669.9 259.0,669.9 260.1,669.9 261.2,669.9 262.2,669.9 263.3,669.9 264.4,669.9 265.4,669.9 266.5,669.9 267.5,669.9 268.6,669.9 269.7,669.9 270.7,669.9 271.8,669.9 272.9,669.9 273.9,669.9 275.0,669.9 276.1,669.9 277.1,669.9 278.2,669.9 279.2,669.9 280.3,669.9 281.4,669.9 282.4,669.9 283.5,669.9 284.6,669.9 285.6,669.9 286.7,669.9 287.7,669.9 288.8,669.9 289.9,669.9 290.9,669.9 292.0,669.9 293.1,669.9 294.1,669.9 295.2,669.9 296.2,669.9 297.3,669.9 298.4,669.9 299.4,669.9 300.5,669.9 301.6,669.9 302.6,669.9 303.7,669.9 304.8,669.9 305.8,669.9 306.9,669.9 307.9,669.9 309.0,669.9 310.1,669.9 311.1,669.9 312.2,669.9 313.3,669.9 314.3,669.9 315.4,669.9 316.4,669.9 317.5,669.9 318.6,669.9 319.6,669.9 320.7,669.9 321.8,669.9 322.8,669.9 323.9,669.9 325.0,669.9 326.0,669.9 327.1,669.9 328.1,669.9 329.2,669.8 330.3,669.8 331.3,669.8 332.4,669.8 333.5,669.8 334.5,669.8 335.6,669.8 336.6,669.8 337.7,669.8 338.8,669.8 339.8,669.8 340.9,669.8 342.0,669.8 343.0,669.8 344.1,669.7 345.1,669.7 346.2,669.7 347.3,669.7 348.3,669.6 349.4,669.6 350.5,669.5 351.5,669.5 352.6,669.4 353.7,669.4 354.7,669.3 355.8,669.2 356.8,669.1 357.9,669.0 359.0,668.8 360.0,668.6 361.1,668.4 362.2,668.2 363.2,668.0 364.3,667.7 365.3,667.3 366.4,666.9 367.5,666.5 368.5,666.0 369.6,665.4 370.7,664.7 371.7,663.9 372.8,663.1 373.8,662.0 374.9,660.9 376.0,659.6 377.0,658.2 378.1,656.5 379.2,654.7 380.2,652.7 381.3,650.5 382.4,648.0 383.4,645.4 384.5,642.5 385.5,639.4 386.6,636.0 387.7,632.6 388.7,628.9 389.8,625.1 390.9,621.2 391.9,617.3 393.0,613.4 394.0,609.5 395.1,605.7 396.2,602.0 397.2,598.4 398.3,595.0 399.4,591.8 400.4,588.9 401.5,586.1 402.6,583.6 403.6,581.2 404.7,579.1 405.7,577.2 406.8,575.5 407.9,574.0 408.9,572.7 410.0,571.5 411.1,570.4 412.1,569.5 413.2,568.7 414.2,568.0 415.3,567.3 416.4,566.8 417.4,566.3 418.5,565.9 419.6,565.5 420.6,565.2 421.7,565.0 422.7,564.7 423.8,564.5 424.9,564.3 425.9,564.2 427.0,564.1 428.1,563.9 429.1,563.8 430.2,563.8 431.3,563.7 432.3,563.6 433.4,563.6 434.4,563.5 435.5,563.5 436.6,563.4 437.6,563.4 438.7,563.4 439.8,563.4 440.8,563.3 441.9,563.3 442.9,563.3 444.0,563.3 445.1,563.3 446.1,563.3 447.2,563.3 448.3,563.3 449.3,563.3 450.4,563.3 451.4,563.3 452.5,563.2 453.6,563.2 454.6,563.2 455.7,563.2 456.8,563.2 457.8,563.2 458.9,563.2 460.0,563.2 461.0,563.2 462.1,563.2 463.1,563.2 464.2,563.2 465.3,563.2 466.3,563.2 467.4,563.2 468.5,563.2 469.5,563.2 470.6,563.2 471.6,563.2 472.7,563.2 473.8,563.2 474.8,563.2 475.9,563.2 477.0,563.2 478.0,563.2 479.1,563.2 480.1,563.2 481.2,563.2 482.3,563.2 483.3,563.2 484.4,563.2 485.5,563.2 486.5,563.2 487.6,563.2 488.7,563.3 489.7,563.3 490.8,563.3 491.8,563.3 492.9,563.3 494.0,563.3 495.0,563.3 496.1,563.3 497.2,563.3 498.2,563.3 499.3,563.3 500.3,563.3 501.4,563.3 502.5,563.3 503.5,563.3 504.6,563.3 505.7,563.3 506.7,563.3 507.8,563.3 508.8,563.3 509.9,563.3 511.0,563.3 512.0,563.3 513.1,563.3 514.2,563.3 515.2,563.3 516.3,563.4 517.4,563.4 518.4,563.4 519.5,563.4 520.5,563.4 521.6,563.4 522.7,563.4 523.7,563.4 524.8,563.4 525.9,563.4 526.9,563.5 528.0,563.5 529.0,563.5 530.1,563.5 531.2,563.5 532.2,563.5 533.3,563.5 534.4,563.6 535.4,563.6 536.5,563.6 537.6,563.6 538.6,563.6 539.7,563.7 540.7,563.7 541.8,563.7 542.9,563.8 543.9,563.8 545.0,563.8 546.1,563.8 547.1,563.9 548.2,563.9 549.2,564.0 550.3,564.0 551.4,564.0 552.4,564.1 553.5,564.1 554.6,564.2 555.6,564.2 556.7,564.3 557.7,564.3 558.8,564.4 559.9,564.5 560.9,564.5 562.0,564.6 563.1,564.7 564.1,564.8 565.2,564.9 566.3,564.9 567.3,565.0 568.4,565.1 569.4,565.2 570.5,565.4 571.6,565.5 572.6,565.6 573.7,565.7 574.8,565.9 575.8,566.0 576.9,566.2 577.9,566.3 579.0,566.5 580.1,566.7 581.1,566.8 582.2,567.0 583.3,567.2 584.3,567.5 585.4,567.7 586.4,567.9 587.5,568.2 588.6,568.4 589.6,568.7 590.7,569.0 591.8,569.3 592.8,569.6 593.9,569.9 595.0,570.3 596.0,570.6 597.1,571.0 598.1,571.4 599.2,571.8 600.3,572.3 601.3,572.7 602.4,573.2 603.5,573.7 604.5,574.2 605.6,574.8 606.6,575.4 607.7,576.0 608.8,576.6 609.8,577.2 610.9,577.9 612.0,578.6 613.0,579.3 614.1,580.1 615.1,580.8 616.2,581.6 617.3,582.5 618.3,583.3 619.4,584.2 620.5,585.2 621.5,586.1 622.6,587.1 623.7,588.1 624.7,589.2 625.8,590.3 626.8,591.4 627.9,592.5 629.0,593.7 630.0,594.8 631.1,596.1 632.2,597.3 633.2,598.6 634.3,599.8 635.3,601.2 636.4,602.5 637.5,603.8 638.5,605.2 639.6,606.6 640.7,608.0 641.7,609.4 642.8,610.8 643.9,612.2 644.9,613.7 646.0,615.1 647.0,616.5 648.1,618.0 649.2,619.4 650.2,620.9 651.3,622.3 652.4,623.7 653.4,625.1 654.5,626.5 655.5,627.9 656.6,629.3 657.7,630.6 658.7,631.9 659.8,633.2 660.9,634.5 661.9,635.8 663.0,637.0 664.0,638.2 665.1,639.4 666.2,640.6 667.2,641.7 668.3,642.8 669.4,643.9 670.4,645.0 671.5,646.0 672.6,647.0 673.6,647.9 674.7,648.8 675.7,649.7 676.8,650.6 677.9,651.4 678.9,652.2 680.0,653.0 681.1,653.8 682.1,654.5 683.2,655.2 684.2,655.9 685.3,656.5 686.4,657.1 687.4,657.7 688.5,658.3 689.6,658.8 690.6,659.4 691.7,659.9 692.7,660.3 693.8,660.8 694.9,661.2 695.9,661.7 697.0,662.1 698.1,662.4 699.1,662.8 700.2,663.2 701.3,663.5 702.3,663.8 703.4,664.1 704.4,664.4 705.5,664.7 706.6,664.9 707.6,665.2 708.7,665.4 709.8,665.6 710.8,665.8 711.9,666.1 712.9,666.2 714.0,666.4 715.1,666.6 716.1,666.8 717.2,666.9 718.3,667.1 719.3,667.2 720.4,667.4 721.5,667.5 722.5,667.6 723.6,667.7 724.6,667.8 725.7,667.9 726.8,668.0 727.8,668.1 728.9,668.2 730.0,668.3 731.0,668.4 732.1,668.5 733.1,668.5 734.2,668.6 735.3,668.7 736.3,668.7 737.4,668.8 738.5,668.9 739.5,668.9 740.6,669.0 741.6,669.0 742.7,669.0 743.8,669.1 744.8,669.1 745.9,669.2 747.0,669.2 748.0,669.2 749.1,669.3 750.2,669.3 751.2,669.3 752.3,669.4 753.3,669.4 754.4,669.4 755.5,669.4 756.5,669.5 757.6,669.5 758.7,669.5 759.7,669.5 760.8,669.5 761.8,669.6 762.9,669.6 764.0,669.6 765.0,669.6 766.1,669.6 767.2,669.6 768.2,669.6 769.3,669.7 770.3,669.7 771.4,669.7 772.5,669.7 773.5,669.7 774.6,669.7 775.7,669.7 776.7,669.7 777.8,669.7 778.9,669.7 779.9,669.7 781.0,669.7 782.0,669.8 783.1,669.8 784.2,669.8 785.2,669.8 786.3,669.8 787.4,669.8 788.4,669.8 789.5,669.8 790.5,669.8 791.6,669.8 792.7,669.8 793.7,669.8 794.8,669.8 795.9,669.8 796.9,669.8 798.0,669.8 799.0,669.8 800.1,669.8 801.2,669.8 802.2,669.8 803.3,669.8 804.4,669.8 805.4,669.8 806.5,669.8 807.6,669.8 808.6,669.8 809.7,669.8 810.7,669.8 811.8,669.8 812.9,669.8 813.9,669.8 815.0,669.8 816.1,669.8 817.1,669.8 818.2,669.8 819.2,669.9 820.3,669.9 821.4,669.9 822.4,669.9 823.5,669.9 824.6,669.9 825.6,669.9 826.7,669.9 827.8,669.9 828.8,669.9 829.9,669.9 830.9,669.9 832.0,669.9 833.1,669.9 834.1,669.9 835.2,669.9 836.3,669.9 837.3,669.9 838.4,669.9 839.4,669.9 840.5,669.9 841.6,669.9 842.6,669.9 843.7,669.9 844.8,669.9 845.8,669.9 846.9,669.9 847.9,669.9 849.0,669.9 850.1,669.9 851.1,669.9 852.2,669.9 853.3,669.9 854.3,669.9 855.4,669.9 856.5,669.9 857.5,669.9 858.6,669.9 859.6,669.9 860.7,669.9 861.8,669.9 862.8,669.9 863.9,669.9 865.0,669.9 866.0,669.9 867.1,669.9 868.1,669.9 869.2,669.9 870.3,669.9 871.3,669.9 872.4,669.9 873.5,669.9 874.5,669.9 875.6,669.9 876.6,669.9 877.7,669.9 878.8,669.9 879.8,669.9 880.9,669.9 882.0,669.9 883.0,669.9 884.1,669.9 885.2,669.9 886.2,669.9 887.3,669.9 888.3,669.9 889.4,669.9 890.5,669.9 891.5,669.9 892.6,669.9 893.7,669.9 894.7,669.9 895.8,669.9 896.8,669.9 897.9,669.9 899.0,669.9 900.0,669.9 901.1,669.9 902.2,669.9 903.2,669.9 904.3,669.9 905.3,669.9 906.4,669.9 907.5,669.9 908.5,669.9 909.6,669.9 910.7,669.9 911.7,669.9 912.8,669.9"/>
</g>
<g stroke="#262626" fill="none">
<line x1="136.8" y1="479.2" x2="136.8" y2="672.9" stroke-width="2.0"/>
<line x1="136.0" y1="672.0" x2="988.1" y2="672.0" stroke-width="2.0"/>
<line x1="118.3" y1="672.0" x2="136.8" y2="672.0" stroke-width="1.5"/>
<line x1="118.3" y1="640.0" x2="136.8" y2="640.0" stroke-width="1.5"/>
<line x1="118.3" y1="608.0" x2="136.8" y2="608.0" stroke-width="1.5"/>
<line x1="118.3" y1="576.0" x2="136.8" y2="576.0" stroke-width="1.5"/>
<line x1="118.3" y1="544.0" x2="136.8" y2="544.0" stroke-width="1.5"/>
<line x1="118.3" y1="512.0" x2="136.8" y2="512.0" stroke-width="1.5"/>
<line x1="118.3" y1="480.0" x2="136.8" y2="480.0" stroke-width="1.5"/>
<line x1="136.8" y1="672.0" x2="136.8" y2="690.5" stroke-width="1.5"/>
<line x1="243.1" y1="672.0" x2="243.1" y2="690.5" stroke-width="1.5"/>
<line x1="349.4" y1="672.0" x2="349.4" y2="690.5" stroke-width="1.5"/>
<line x1="455.7" y1="672.0" x2="455.7" y2="690.5" stroke-width="1.5"/>
<line x1="562.0" y1="672.0" x2="562.0" y2="690.5" stroke-width="1.5"/>
<line x1="668.3" y1="672.0" x2="668.3" y2="690.5" stroke-width="1.5"/>
<line x1="774.6" y1="672.0" x2="774.6" y2="690.5" stroke-width="1.5"/>
<line x1="880.9" y1="672.0" x2="880.9" y2="690.5" stroke-width="1.5"/>
<line x1="987.2" y1="672.0" x2="987.2" y2="690.5" stroke-width="1.5"/>
</g>
<g font-family="Liberation Sans, Arial, Helvetica, sans-serif" font-size="22" fill="#262626" stroke="#262626" stroke-width="0.3" text-anchor="end">
<text x="105.2" y="677.9">0.0</text>
<text x="105.2" y="645.9">1.5</text>
<text x="105.2" y="613.9">3.0</text>
<text x="105.2" y="581.9">4.5</text>
<text x="105.2" y="549.9">6.0</text>
<text x="105.2" y="517.9">7.5</text>
<text x="105.2" y="485.9">9.0</text>
</g>
<g font-family="Liberation Sans, Arial, Helvetica, sans-serif" font-size="22" fill="#262626" stroke="#262626" stroke-width="0.3" text-anchor="middle">
<text x="136.8" y="720">0</text>
<text x="243.1" y="720">50</text>
<text x="349.4" y="720">100</text>
<text x="455.7" y="720">150</text>
<text x="562.0" y="720">200</text>
<text x="668.3" y="720">250</text>
<text x="774.6" y="720">300</text>
<text x="880.9" y="720">350</text>
<text x="987.2" y="720">400</text>
<text x="562" y="748" word-spacing="1.5">Day of Year</text>
</g>
<g transform="translate(64.0,110.5) rotate(-90)"><text font-family="Liberation Serif, Times New Roman, serif" font-size="24.5" fill="#383838" font-style="italic" letter-spacing="-0.20" text-anchor="middle" x="0" y="0">C<tspan font-size="17" dy="5">ab</tspan><tspan dy="-5"> </tspan><tspan font-style="normal" font-size="27.5">[</tspan>gm<tspan font-size="17" font-style="normal" dy="-9">−2</tspan><tspan font-style="normal" font-size="27.5" dy="9">]</tspan></text></g>
<g transform="translate(34.5,343.0) rotate(-90)"><text font-family="Liberation Serif, Times New Roman, serif" font-size="24.5" fill="#383838" font-style="italic" letter-spacing="0.20" text-anchor="middle" x="0" y="0">C<tspan font-size="17" dy="5">w</tspan><tspan dy="-5"> </tspan><tspan font-style="normal" font-size="27.5">[</tspan>cm<tspan font-size="17" font-style="normal" dy="-9">−1</tspan><tspan font-style="normal" font-size="27.5" dy="9">]</tspan></text></g>
<g transform="translate(60.0,577.0) rotate(-90)"><text font-family="Liberation Serif, Times New Roman, serif" font-size="24.5" fill="#383838" font-style="italic" letter-spacing="0.70" text-anchor="middle" x="0" y="0">LAI <tspan font-style="normal" font-size="27.5">[</tspan>m<tspan font-size="17" font-style="normal" dy="-9">2</tspan><tspan dy="9">m</tspan><tspan font-size="17" font-style="normal" dy="-9">−2</tspan><tspan font-style="normal" font-size="27.5" dy="9">]</tspan></text></g>
<line x1="776.8" y1="507.4" x2="811.6" y2="507.4" stroke="#fc8d62" stroke-width="4"/>
<line x1="779.3" y1="537.4" x2="811.6" y2="537.4" stroke="#66c2a5" stroke-width="4" stroke-dasharray="10.3 10.4"/>
<rect x="771.6" y="560" width="44.6" height="15.6" fill="#cccccc"/>
<rect x="771.6" y="590" width="44.6" height="15.9" fill="#666666"/>
<g font-family="Liberation Sans, Arial, Helvetica, sans-serif" font-size="22" fill="#262626" stroke="#262626" stroke-width="0.3">
<text x="833.4" y="514.6" word-spacing="2">Mean particle</text>
<text x="833.4" y="544.8">Truth</text>
<text x="833.4" y="575.0">5-95% post. intvl.</text>
<text x="833.4" y="605.2">25-75% post. intvl.</text>
</g>
</svg>
</body></html>
